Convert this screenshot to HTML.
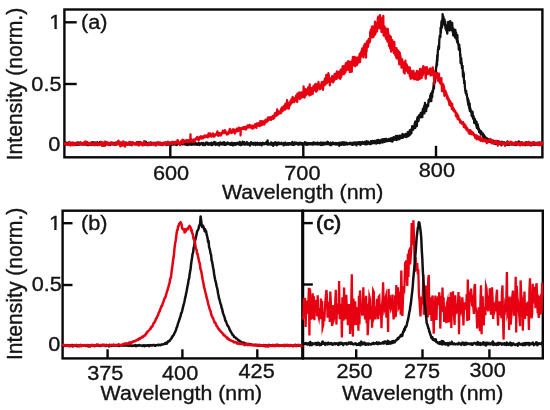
<!DOCTYPE html>
<html><head><meta charset="utf-8"><title>Spectra</title>
<style>html,body{margin:0;padding:0;background:#fff}svg{display:block}</style></head>
<body>
<svg width="550" height="410" viewBox="0 0 550 410" font-family="'Liberation Sans', Arial, Helvetica, sans-serif" fill="#151515">
<rect width="550" height="410" fill="#fff"/>
<defs>
<clipPath id="ca"><rect x="63.400000000000006" y="9.5" width="480.0" height="147.8"/></clipPath>
<clipPath id="cb"><rect x="61.6" y="210.7" width="242.20000000000002" height="147.7"/></clipPath>
<clipPath id="cc"><rect x="301.8" y="210.7" width="241.99999999999994" height="147.7"/></clipPath>
<clipPath id="c1"><polygon points="-12,-17 0,-17 0,-1.8 -4.15,-1.8 -4.15,0.4 -6.25,0.4 -6.25,-1.8 -12,-1.8"/></clipPath>
</defs>
<rect x="64.4" y="9.5" width="478.0" height="147.8" fill="none" stroke="#080808" stroke-width="2.4"/>
<line x1="170.3" y1="157.3" x2="170.3" y2="145.8" stroke="#080808" stroke-width="2.4"/>
<line x1="303.3" y1="157.3" x2="303.3" y2="145.8" stroke="#080808" stroke-width="2.4"/>
<line x1="436.0" y1="157.3" x2="436.0" y2="145.8" stroke="#080808" stroke-width="2.4"/>
<line x1="64.4" y1="22.3" x2="76.7" y2="22.3" stroke="#080808" stroke-width="2.4"/>
<line x1="64.4" y1="84.0" x2="76.7" y2="84.0" stroke="#080808" stroke-width="2.4"/>
<line x1="64.4" y1="143.7" x2="76.7" y2="143.7" stroke="#080808" stroke-width="2.4"/>
<rect x="62.6" y="210.7" width="240.2" height="147.7" fill="none" stroke="#080808" stroke-width="2.4"/>
<line x1="107.6" y1="358.4" x2="107.6" y2="349.29999999999995" stroke="#080808" stroke-width="2.4"/>
<line x1="182.4" y1="358.4" x2="182.4" y2="349.29999999999995" stroke="#080808" stroke-width="2.4"/>
<line x1="257.3" y1="358.4" x2="257.3" y2="349.29999999999995" stroke="#080808" stroke-width="2.4"/>
<line x1="62.6" y1="223.2" x2="72.5" y2="223.2" stroke="#080808" stroke-width="2.4"/>
<line x1="62.6" y1="285.0" x2="72.5" y2="285.0" stroke="#080808" stroke-width="2.4"/>
<line x1="62.6" y1="345.5" x2="72.5" y2="345.5" stroke="#080808" stroke-width="2.4"/>
<rect x="302.8" y="210.7" width="240.0" height="147.7" fill="none" stroke="#080808" stroke-width="2.4"/>
<line x1="356.2" y1="358.4" x2="356.2" y2="349.29999999999995" stroke="#080808" stroke-width="2.4"/>
<line x1="422.5" y1="358.4" x2="422.5" y2="349.29999999999995" stroke="#080808" stroke-width="2.4"/>
<line x1="489.4" y1="358.4" x2="489.4" y2="349.29999999999995" stroke="#080808" stroke-width="2.4"/>
<line x1="302.8" y1="223.1" x2="312.8" y2="223.1" stroke="#080808" stroke-width="2.4"/>
<line x1="302.8" y1="284.5" x2="312.8" y2="284.5" stroke="#080808" stroke-width="2.4"/>
<line x1="302.8" y1="343.8" x2="312.8" y2="343.8" stroke="#080808" stroke-width="2.4"/>
<line x1="302.8" y1="210.7" x2="302.8" y2="358.4" stroke="#080808" stroke-width="2.9"/>
<g fill="none" stroke-linejoin="round" stroke-linecap="round">
<path clip-path="url(#ca)" d="M64.4,143.9 L64.6,144.2 L64.7,143.7 L64.9,143.5 L65.0,143.6 L65.2,144.0 L65.4,144.2 L65.5,143.2 L65.7,143.8 L65.8,142.4 L66.0,144.2 L66.2,143.3 L66.3,143.7 L66.5,144.1 L66.6,142.9 L66.8,143.6 L67.0,144.2 L67.1,143.9 L67.3,143.1 L67.4,144.4 L67.6,142.9 L67.8,143.3 L67.9,143.9 L68.1,142.9 L68.2,142.7 L68.4,143.4 L68.6,143.6 L68.7,142.7 L68.9,142.9 L69.0,144.2 L69.2,143.8 L69.4,143.8 L69.5,143.9 L69.7,144.5 L69.8,143.2 L70.0,143.7 L70.2,143.6 L70.3,142.9 L70.5,144.0 L70.6,143.7 L70.8,143.5 L71.0,143.9 L71.1,143.8 L71.3,143.3 L71.4,143.7 L71.6,142.9 L71.8,144.1 L71.9,143.6 L72.1,144.5 L72.2,143.8 L72.4,144.1 L72.6,142.9 L72.7,143.3 L72.9,143.4 L73.0,142.6 L73.2,142.9 L73.4,143.3 L73.5,144.1 L73.7,144.5 L73.8,143.7 L74.0,143.9 L74.2,144.1 L74.3,143.9 L74.5,144.6 L74.6,142.8 L74.8,144.4 L75.0,144.1 L75.1,143.4 L75.3,144.6 L75.4,143.2 L75.6,143.2 L75.8,143.9 L75.9,144.3 L76.1,144.0 L76.2,144.8 L76.4,142.9 L76.6,143.7 L76.7,144.1 L76.9,144.2 L77.0,143.4 L77.2,142.8 L77.4,144.4 L77.5,144.0 L77.7,144.7 L77.8,143.3 L78.0,143.6 L78.2,142.4 L78.3,143.8 L78.5,143.9 L78.6,144.1 L78.8,143.2 L79.0,144.6 L79.1,143.3 L79.3,143.6 L79.4,144.0 L79.6,144.2 L79.8,143.1 L79.9,142.6 L80.1,144.0 L80.2,143.4 L80.4,142.7 L80.6,144.1 L80.7,143.8 L80.9,144.4 L81.0,143.8 L81.2,143.7 L81.4,143.9 L81.5,144.1 L81.7,144.6 L81.8,144.5 L82.0,144.3 L82.2,143.3 L82.3,144.0 L82.5,144.2 L82.6,143.3 L82.8,143.4 L83.0,144.1 L83.1,144.1 L83.3,143.3 L83.4,143.5 L83.6,144.2 L83.8,143.6 L83.9,143.7 L84.1,143.1 L84.2,144.2 L84.4,143.2 L84.6,143.5 L84.7,144.3 L84.9,143.1 L85.0,143.2 L85.2,144.5 L85.4,142.6 L85.5,144.4 L85.7,144.2 L85.8,143.9 L86.0,143.3 L86.2,143.4 L86.3,143.8 L86.5,142.9 L86.6,143.5 L86.8,142.9 L87.0,142.1 L87.1,143.6 L87.3,145.2 L87.4,144.0 L87.6,144.3 L87.8,143.6 L87.9,143.6 L88.1,144.4 L88.2,144.4 L88.4,143.9 L88.6,143.8 L88.7,145.2 L88.9,143.1 L89.0,143.7 L89.2,143.7 L89.4,143.5 L89.5,144.3 L89.7,143.7 L89.8,143.1 L90.0,143.1 L90.2,143.4 L90.3,143.9 L90.5,144.2 L90.6,142.9 L90.8,143.4 L91.0,143.9 L91.1,145.0 L91.3,144.2 L91.4,144.8 L91.6,143.0 L91.8,143.6 L91.9,144.1 L92.1,143.9 L92.2,142.2 L92.4,143.0 L92.6,144.5 L92.7,143.8 L92.9,144.4 L93.0,144.7 L93.2,143.6 L93.4,142.3 L93.5,142.8 L93.7,143.7 L93.8,143.9 L94.0,143.6 L94.2,143.1 L94.3,144.6 L94.5,144.8 L94.6,142.6 L94.8,143.5 L95.0,142.7 L95.1,143.6 L95.3,142.8 L95.4,144.1 L95.6,143.4 L95.8,142.8 L95.9,143.1 L96.1,144.0 L96.2,143.2 L96.4,144.1 L96.6,144.6 L96.7,143.4 L96.9,142.9 L97.0,143.2 L97.2,144.5 L97.4,142.1 L97.5,143.3 L97.7,144.0 L97.8,145.2 L98.0,143.1 L98.2,143.2 L98.3,143.4 L98.5,144.7 L98.6,144.6 L98.8,143.1 L99.0,143.2 L99.1,143.4 L99.3,143.8 L99.4,143.5 L99.6,144.0 L99.8,143.9 L99.9,144.2 L100.1,141.9 L100.2,144.0 L100.4,143.1 L100.6,143.3 L100.7,144.2 L100.9,142.6 L101.0,144.4 L101.2,143.4 L101.4,143.0 L101.5,142.9 L101.7,145.0 L101.8,143.1 L102.0,143.0 L102.2,142.8 L102.3,145.0 L102.5,144.1 L102.6,143.8 L102.8,144.0 L103.0,142.9 L103.1,144.1 L103.3,143.0 L103.4,143.4 L103.6,144.6 L103.8,144.3 L103.9,144.0 L104.1,143.6 L104.2,143.1 L104.4,143.8 L104.6,143.1 L104.7,144.7 L104.9,145.5 L105.0,143.9 L105.2,143.4 L105.4,143.9 L105.5,144.3 L105.7,143.4 L105.8,142.5 L106.0,143.8 L106.2,144.1 L106.3,144.2 L106.5,142.5 L106.6,143.7 L106.8,143.3 L107.0,143.0 L107.1,143.0 L107.3,144.3 L107.4,143.1 L107.6,143.2 L107.8,143.4 L107.9,143.1 L108.1,144.0 L108.2,143.7 L108.4,144.0 L108.6,143.2 L108.7,144.1 L108.9,143.5 L109.0,144.4 L109.2,143.8 L109.4,143.9 L109.5,143.8 L109.7,143.6 L109.8,143.8 L110.0,143.8 L110.2,145.0 L110.3,143.0 L110.5,144.1 L110.6,143.8 L110.8,144.2 L111.0,143.1 L111.1,144.2 L111.3,143.4 L111.4,143.0 L111.6,142.7 L111.8,143.0 L111.9,143.3 L112.1,144.4 L112.2,142.9 L112.4,143.0 L112.6,143.2 L112.7,143.2 L112.9,143.7 L113.0,144.0 L113.2,143.0 L113.4,142.9 L113.5,144.3 L113.7,143.1 L113.8,143.5 L114.0,143.2 L114.2,143.5 L114.3,143.0 L114.5,143.1 L114.6,143.2 L114.8,144.6 L115.0,143.2 L115.1,143.7 L115.3,144.4 L115.4,143.3 L115.6,144.5 L115.8,143.2 L115.9,142.7 L116.1,144.0 L116.2,143.1 L116.4,143.4 L116.6,143.3 L116.7,144.5 L116.9,143.3 L117.0,143.6 L117.2,143.2 L117.4,143.7 L117.5,143.0 L117.7,143.5 L117.8,143.3 L118.0,142.9 L118.2,143.6 L118.3,143.1 L118.5,143.5 L118.6,143.4 L118.8,144.0 L119.0,143.2 L119.1,142.9 L119.3,143.7 L119.4,143.2 L119.6,143.4 L119.8,144.3 L119.9,143.5 L120.1,142.9 L120.2,144.0 L120.4,144.7 L120.6,143.6 L120.7,144.1 L120.9,142.5 L121.0,143.7 L121.2,143.7 L121.4,144.1 L121.5,143.5 L121.7,144.0 L121.8,144.2 L122.0,143.7 L122.2,144.2 L122.3,142.9 L122.5,144.4 L122.6,143.7 L122.8,144.1 L123.0,144.5 L123.1,142.7 L123.3,144.9 L123.4,142.8 L123.6,144.5 L123.8,143.6 L123.9,142.3 L124.1,144.9 L124.2,144.5 L124.4,142.9 L124.6,143.6 L124.7,144.0 L124.9,143.7 L125.0,144.3 L125.2,143.6 L125.4,142.8 L125.5,143.9 L125.7,143.6 L125.8,143.0 L126.0,142.5 L126.2,144.0 L126.3,143.5 L126.5,144.0 L126.6,144.1 L126.8,143.9 L127.0,144.1 L127.1,144.7 L127.3,144.9 L127.4,144.1 L127.6,143.6 L127.8,143.0 L127.9,144.0 L128.1,143.8 L128.2,143.3 L128.4,143.2 L128.6,143.7 L128.7,143.7 L128.9,142.6 L129.0,143.9 L129.2,144.0 L129.4,144.6 L129.5,143.4 L129.7,143.8 L129.8,142.5 L130.0,143.9 L130.2,143.2 L130.3,143.1 L130.5,142.7 L130.6,144.5 L130.8,142.7 L131.0,143.7 L131.1,143.7 L131.3,143.9 L131.4,143.9 L131.6,143.9 L131.8,145.1 L131.9,143.4 L132.1,143.6 L132.2,144.2 L132.4,143.7 L132.6,142.3 L132.7,143.5 L132.9,143.9 L133.0,142.7 L133.2,144.2 L133.4,143.8 L133.5,144.0 L133.7,143.8 L133.8,143.2 L134.0,143.3 L134.2,144.1 L134.3,143.8 L134.5,143.6 L134.6,143.9 L134.8,143.7 L135.0,144.1 L135.1,144.1 L135.3,143.7 L135.4,144.3 L135.6,143.4 L135.8,143.8 L135.9,144.2 L136.1,144.0 L136.2,144.0 L136.4,143.8 L136.6,143.6 L136.7,143.8 L136.9,144.2 L137.0,142.8 L137.2,143.1 L137.4,143.6 L137.5,143.1 L137.7,143.5 L137.8,143.8 L138.0,143.6 L138.2,142.1 L138.3,143.1 L138.5,143.1 L138.6,143.9 L138.8,143.3 L139.0,142.4 L139.1,143.4 L139.3,143.0 L139.4,142.9 L139.6,143.3 L139.8,142.8 L139.9,143.5 L140.1,143.4 L140.2,144.1 L140.4,142.1 L140.6,143.5 L140.7,143.6 L140.9,142.9 L141.0,144.0 L141.2,143.7 L141.4,144.1 L141.5,143.7 L141.7,143.9 L141.8,143.4 L142.0,143.8 L142.2,144.0 L142.3,143.9 L142.5,143.8 L142.6,144.0 L142.8,143.1 L143.0,143.3 L143.1,143.6 L143.3,144.4 L143.4,143.4 L143.6,144.4 L143.8,143.6 L143.9,143.7 L144.1,144.0 L144.2,144.2 L144.4,144.1 L144.6,142.5 L144.7,143.8 L144.9,143.8 L145.0,143.1 L145.2,143.4 L145.4,143.1 L145.5,144.4 L145.7,144.3 L145.8,141.7 L146.0,143.7 L146.2,143.9 L146.3,143.6 L146.5,143.1 L146.6,144.4 L146.8,143.5 L147.0,143.7 L147.1,143.3 L147.3,143.6 L147.4,144.0 L147.6,144.2 L147.8,145.1 L147.9,143.1 L148.1,144.5 L148.2,143.9 L148.4,142.7 L148.6,143.9 L148.7,143.3 L148.9,143.8 L149.0,143.3 L149.2,143.7 L149.4,144.0 L149.5,142.9 L149.7,143.8 L149.8,144.5 L150.0,143.9 L150.2,143.4 L150.3,144.3 L150.5,143.2 L150.6,143.2 L150.8,142.4 L151.0,144.1 L151.1,143.3 L151.3,144.7 L151.4,143.9 L151.6,143.6 L151.8,143.4 L151.9,143.7 L152.1,143.7 L152.2,144.0 L152.4,143.9 L152.6,143.5 L152.7,143.4 L152.9,143.3 L153.0,143.1 L153.2,143.0 L153.4,144.7 L153.5,144.0 L153.7,143.8 L153.8,144.1 L154.0,143.1 L154.2,143.2 L154.3,143.7 L154.5,143.6 L154.6,142.9 L154.8,143.9 L155.0,143.9 L155.1,143.2 L155.3,143.4 L155.4,142.9 L155.6,143.5 L155.8,143.2 L155.9,144.0 L156.1,144.2 L156.2,143.7 L156.4,145.2 L156.6,143.4 L156.7,143.1 L156.9,143.6 L157.0,143.8 L157.2,143.1 L157.4,143.7 L157.5,143.1 L157.7,142.4 L157.8,143.3 L158.0,143.1 L158.2,143.4 L158.3,143.5 L158.5,143.5 L158.6,143.6 L158.8,143.1 L159.0,144.6 L159.1,143.8 L159.3,143.3 L159.4,144.2 L159.6,143.7 L159.8,144.1 L159.9,143.4 L160.1,143.2 L160.2,142.8 L160.4,143.4 L160.6,144.1 L160.7,143.5 L160.9,143.4 L161.0,142.9 L161.2,144.9 L161.4,143.5 L161.5,144.7 L161.7,143.3 L161.8,143.4 L162.0,143.4 L162.2,143.2 L162.3,143.5 L162.5,144.1 L162.6,143.5 L162.8,143.0 L163.0,143.8 L163.1,143.7 L163.3,144.4 L163.4,143.0 L163.6,144.0 L163.8,144.1 L163.9,143.9 L164.1,144.2 L164.2,143.8 L164.4,142.9 L164.6,143.2 L164.7,142.9 L164.9,142.8 L165.0,144.2 L165.2,143.4 L165.4,142.8 L165.5,142.4 L165.7,144.5 L165.8,144.5 L166.0,143.4 L166.2,143.9 L166.3,144.3 L166.5,143.5 L166.6,144.1 L166.8,145.0 L167.0,143.7 L167.1,143.6 L167.3,143.3 L167.4,143.1 L167.6,143.6 L167.8,143.8 L167.9,144.1 L168.1,144.6 L168.2,143.9 L168.4,143.1 L168.6,143.3 L168.7,142.5 L168.9,143.8 L169.0,144.7 L169.2,143.2 L169.4,143.1 L169.5,144.4 L169.7,144.6 L169.8,143.6 L170.0,143.3 L170.2,144.3 L170.3,143.9 L170.5,144.1 L170.6,144.4 L170.8,144.4 L171.0,143.6 L171.1,143.9 L171.3,144.1 L171.4,145.2 L171.6,142.7 L171.8,144.2 L171.9,143.8 L172.1,144.3 L172.2,143.5 L172.4,144.6 L172.6,143.6 L172.7,143.8 L172.9,143.2 L173.0,144.3 L173.2,144.1 L173.4,143.8 L173.5,142.5 L173.7,144.5 L173.8,143.5 L174.0,144.1 L174.2,143.5 L174.3,143.3 L174.5,143.6 L174.6,143.5 L174.8,143.5 L175.0,144.0 L175.1,143.8 L175.3,144.7 L175.4,143.9 L175.6,144.1 L175.8,143.8 L175.9,143.3 L176.1,143.5 L176.2,143.4 L176.4,143.1 L176.6,145.1 L176.7,143.4 L176.9,143.7 L177.0,143.8 L177.2,144.5 L177.4,143.4 L177.5,143.0 L177.7,143.1 L177.8,143.7 L178.0,143.3 L178.2,143.2 L178.3,142.6 L178.5,143.0 L178.6,143.6 L178.8,143.6 L179.0,143.6 L179.1,143.6 L179.3,144.0 L179.4,143.2 L179.6,144.1 L179.8,144.2 L179.9,143.5 L180.1,144.0 L180.2,143.8 L180.4,144.9 L180.6,143.2 L180.7,143.7 L180.9,143.8 L181.0,143.4 L181.2,143.6 L181.4,144.1 L181.5,142.5 L181.7,144.0 L181.8,143.1 L182.0,142.6 L182.2,144.1 L182.3,143.6 L182.5,144.2 L182.6,143.1 L182.8,143.9 L183.0,144.3 L183.1,142.9 L183.3,143.2 L183.4,144.2 L183.6,143.0 L183.8,143.6 L183.9,142.1 L184.1,142.7 L184.2,144.0 L184.4,143.9 L184.6,144.2 L184.7,143.6 L184.9,143.7 L185.0,143.3 L185.2,143.6 L185.4,144.6 L185.5,144.2 L185.7,142.9 L185.8,143.0 L186.0,143.8 L186.2,143.8 L186.3,143.8 L186.5,143.7 L186.6,144.7 L186.8,143.2 L187.0,144.1 L187.1,143.6 L187.3,145.2 L187.4,143.6 L187.6,142.9 L187.8,145.0 L187.9,142.8 L188.1,143.4 L188.2,144.1 L188.4,144.6 L188.6,143.0 L188.7,143.5 L188.9,143.4 L189.0,143.9 L189.2,144.2 L189.4,143.2 L189.5,144.3 L189.7,143.2 L189.8,144.7 L190.0,144.2 L190.2,144.5 L190.3,142.9 L190.5,144.7 L190.6,144.4 L190.8,143.3 L191.0,143.6 L191.1,142.4 L191.3,142.6 L191.4,143.3 L191.6,143.3 L191.8,144.8 L191.9,144.2 L192.1,143.9 L192.2,143.8 L192.4,144.5 L192.6,144.2 L192.7,144.2 L192.9,143.1 L193.0,143.5 L193.2,143.9 L193.4,143.9 L193.5,143.5 L193.7,144.1 L193.8,143.9 L194.0,144.7 L194.2,143.3 L194.3,143.1 L194.5,143.5 L194.6,143.4 L194.8,143.5 L195.0,142.5 L195.1,143.6 L195.3,144.5 L195.4,144.3 L195.6,143.3 L195.8,143.1 L195.9,143.3 L196.1,143.2 L196.2,143.6 L196.4,144.6 L196.6,144.1 L196.7,144.8 L196.9,143.9 L197.0,144.5 L197.2,143.6 L197.4,143.8 L197.5,144.8 L197.7,143.3 L197.8,143.3 L198.0,144.5 L198.2,143.6 L198.3,143.3 L198.5,143.9 L198.6,143.2 L198.8,143.6 L199.0,143.1 L199.1,143.6 L199.3,143.8 L199.4,143.4 L199.6,145.2 L199.8,143.6 L199.9,144.0 L200.1,144.2 L200.2,143.9 L200.4,144.0 L200.6,143.6 L200.7,143.6 L200.9,143.8 L201.0,143.7 L201.2,143.6 L201.4,142.8 L201.5,143.0 L201.7,144.0 L201.8,143.5 L202.0,143.9 L202.2,143.8 L202.3,143.9 L202.5,144.1 L202.6,144.5 L202.8,145.1 L203.0,143.6 L203.1,143.0 L203.3,144.2 L203.4,143.4 L203.6,143.9 L203.8,143.5 L203.9,144.2 L204.1,143.8 L204.2,143.8 L204.4,145.1 L204.6,143.6 L204.7,143.8 L204.9,145.2 L205.0,143.3 L205.2,143.7 L205.4,143.6 L205.5,143.5 L205.7,144.0 L205.8,144.3 L206.0,144.0 L206.2,144.0 L206.3,142.4 L206.5,142.6 L206.6,144.0 L206.8,144.0 L207.0,143.5 L207.1,143.4 L207.3,144.1 L207.4,144.3 L207.6,142.6 L207.8,143.1 L207.9,144.6 L208.1,144.8 L208.2,144.2 L208.4,143.6 L208.6,143.4 L208.7,143.9 L208.9,144.7 L209.0,143.6 L209.2,143.4 L209.4,143.7 L209.5,144.0 L209.7,143.4 L209.8,143.8 L210.0,144.4 L210.2,143.7 L210.3,144.5 L210.5,143.2 L210.6,143.4 L210.8,144.3 L211.0,143.6 L211.1,143.0 L211.3,145.0 L211.4,143.8 L211.6,142.7 L211.8,144.6 L211.9,143.8 L212.1,144.6 L212.2,143.8 L212.4,145.1 L212.6,144.7 L212.7,144.0 L212.9,143.6 L213.0,143.5 L213.2,143.5 L213.4,143.0 L213.5,143.3 L213.7,143.3 L213.8,144.3 L214.0,143.8 L214.2,141.8 L214.3,142.4 L214.5,143.2 L214.6,143.3 L214.8,143.1 L215.0,144.0 L215.1,142.6 L215.3,143.9 L215.4,143.8 L215.6,142.4 L215.8,145.0 L215.9,143.5 L216.1,144.7 L216.2,144.1 L216.4,143.8 L216.6,143.9 L216.7,143.6 L216.9,144.2 L217.0,143.8 L217.2,144.4 L217.4,143.9 L217.5,144.5 L217.7,143.3 L217.8,144.5 L218.0,143.3 L218.2,144.0 L218.3,143.9 L218.5,143.0 L218.6,143.7 L218.8,144.9 L219.0,143.4 L219.1,145.5 L219.3,143.6 L219.4,144.0 L219.6,144.6 L219.8,143.7 L219.9,143.9 L220.1,142.5 L220.2,144.0 L220.4,142.6 L220.6,142.9 L220.7,144.1 L220.9,144.2 L221.0,142.9 L221.2,143.8 L221.4,143.6 L221.5,143.9 L221.7,144.4 L221.8,143.9 L222.0,144.3 L222.2,144.6 L222.3,143.9 L222.5,142.6 L222.6,142.7 L222.8,143.8 L223.0,143.6 L223.1,143.4 L223.3,142.9 L223.4,143.5 L223.6,144.0 L223.8,144.0 L223.9,143.0 L224.1,142.1 L224.2,144.1 L224.4,145.0 L224.6,143.2 L224.7,143.8 L224.9,143.6 L225.0,143.0 L225.2,143.7 L225.4,144.5 L225.5,144.9 L225.7,143.7 L225.8,144.4 L226.0,143.5 L226.2,144.5 L226.3,143.9 L226.5,144.6 L226.6,143.9 L226.8,144.0 L227.0,143.4 L227.1,142.9 L227.3,143.8 L227.4,144.2 L227.6,142.5 L227.8,143.5 L227.9,143.3 L228.1,143.3 L228.2,142.8 L228.4,143.1 L228.6,143.3 L228.7,143.3 L228.9,144.2 L229.0,144.1 L229.2,143.8 L229.4,143.7 L229.5,143.7 L229.7,143.5 L229.8,143.7 L230.0,144.0 L230.2,144.7 L230.3,143.2 L230.5,143.4 L230.6,144.2 L230.8,143.4 L231.0,143.5 L231.1,143.7 L231.3,144.8 L231.4,144.4 L231.6,144.1 L231.8,142.7 L231.9,144.2 L232.1,143.9 L232.2,144.4 L232.4,144.0 L232.6,143.5 L232.7,145.0 L232.9,145.4 L233.0,143.3 L233.2,143.7 L233.4,144.1 L233.5,143.1 L233.7,143.1 L233.8,145.0 L234.0,143.8 L234.2,143.0 L234.3,144.1 L234.5,143.9 L234.6,143.1 L234.8,143.9 L235.0,144.4 L235.1,144.1 L235.3,144.5 L235.4,143.4 L235.6,144.8 L235.8,143.1 L235.9,144.7 L236.1,143.7 L236.2,144.6 L236.4,143.9 L236.6,143.1 L236.7,143.0 L236.9,142.9 L237.0,143.8 L237.2,143.7 L237.4,143.6 L237.5,143.3 L237.7,144.0 L237.8,143.0 L238.0,143.5 L238.2,143.0 L238.3,143.4 L238.5,143.3 L238.6,144.2 L238.8,144.0 L239.0,144.5 L239.1,143.9 L239.3,143.8 L239.4,143.2 L239.6,144.5 L239.8,141.8 L239.9,143.8 L240.1,143.0 L240.2,143.1 L240.4,145.2 L240.6,143.9 L240.7,142.8 L240.9,145.2 L241.0,143.2 L241.2,144.3 L241.4,144.0 L241.5,143.6 L241.7,144.8 L241.8,143.6 L242.0,144.1 L242.2,144.2 L242.3,143.3 L242.5,141.6 L242.6,143.5 L242.8,143.4 L243.0,143.7 L243.1,144.2 L243.3,143.6 L243.4,142.8 L243.6,143.6 L243.8,143.2 L243.9,143.9 L244.1,142.2 L244.2,144.7 L244.4,143.4 L244.6,143.4 L244.7,143.6 L244.9,144.4 L245.0,144.4 L245.2,143.9 L245.4,143.7 L245.5,144.5 L245.7,144.4 L245.8,143.4 L246.0,143.1 L246.2,144.1 L246.3,144.1 L246.5,144.2 L246.6,142.2 L246.8,143.4 L247.0,143.8 L247.1,143.1 L247.3,142.3 L247.4,143.0 L247.6,144.6 L247.8,143.8 L247.9,144.0 L248.1,143.9 L248.2,144.5 L248.4,144.0 L248.6,144.4 L248.7,143.5 L248.9,143.7 L249.0,144.6 L249.2,144.8 L249.4,144.0 L249.5,143.3 L249.7,143.4 L249.8,143.8 L250.0,145.7 L250.2,144.0 L250.3,144.2 L250.5,143.9 L250.6,144.5 L250.8,144.0 L251.0,144.1 L251.1,142.1 L251.3,143.3 L251.4,143.8 L251.6,143.8 L251.8,143.8 L251.9,143.6 L252.1,144.0 L252.2,143.7 L252.4,143.1 L252.6,143.2 L252.7,143.5 L252.9,142.9 L253.0,143.6 L253.2,144.3 L253.4,144.8 L253.5,144.1 L253.7,143.8 L253.8,143.5 L254.0,143.1 L254.2,144.1 L254.3,144.2 L254.5,143.3 L254.6,143.0 L254.8,144.0 L255.0,143.5 L255.1,142.9 L255.3,143.5 L255.4,143.8 L255.6,145.0 L255.8,142.9 L255.9,143.3 L256.1,143.6 L256.2,144.0 L256.4,144.5 L256.6,143.8 L256.7,143.8 L256.9,143.1 L257.0,144.5 L257.2,142.8 L257.4,143.7 L257.5,143.0 L257.7,144.3 L257.8,143.5 L258.0,143.0 L258.2,143.7 L258.3,144.6 L258.5,143.9 L258.6,143.4 L258.8,144.6 L259.0,144.6 L259.1,143.6 L259.3,144.3 L259.4,143.3 L259.6,144.4 L259.8,144.8 L259.9,144.2 L260.1,142.8 L260.2,144.2 L260.4,143.7 L260.6,143.6 L260.7,144.3 L260.9,143.1 L261.0,143.6 L261.2,143.5 L261.4,144.7 L261.5,144.8 L261.7,145.4 L261.8,143.8 L262.0,143.9 L262.2,143.3 L262.3,142.8 L262.5,143.9 L262.6,143.9 L262.8,143.4 L263.0,142.8 L263.1,144.2 L263.3,143.3 L263.4,143.9 L263.6,143.9 L263.8,143.2 L263.9,144.2 L264.1,144.4 L264.2,143.3 L264.4,143.7 L264.6,143.9 L264.7,143.8 L264.9,143.4 L265.0,143.9 L265.2,143.3 L265.4,143.5 L265.5,142.8 L265.7,143.0 L265.8,143.2 L266.0,143.8 L266.2,143.6 L266.3,144.1 L266.5,142.0 L266.6,143.9 L266.8,143.4 L267.0,142.9 L267.1,144.5 L267.3,144.2 L267.4,144.0 L267.6,140.3 L267.8,144.5 L267.9,144.0 L268.1,142.9 L268.2,143.3 L268.4,143.7 L268.6,143.7 L268.7,144.7 L268.9,143.3 L269.0,143.5 L269.2,144.4 L269.4,143.6 L269.5,143.8 L269.7,144.0 L269.8,144.3 L270.0,144.1 L270.2,144.3 L270.3,143.4 L270.5,143.5 L270.6,143.5 L270.8,143.8 L271.0,144.0 L271.1,142.5 L271.3,144.8 L271.4,143.0 L271.6,143.5 L271.8,143.7 L271.9,144.0 L272.1,143.9 L272.2,144.4 L272.4,144.6 L272.6,143.8 L272.7,144.7 L272.9,143.2 L273.0,143.0 L273.2,145.8 L273.4,144.7 L273.5,143.6 L273.7,143.6 L273.8,143.7 L274.0,143.5 L274.2,143.3 L274.3,143.2 L274.5,142.6 L274.6,143.7 L274.8,143.2 L275.0,144.7 L275.1,143.8 L275.3,144.5 L275.4,142.9 L275.6,142.3 L275.8,143.4 L275.9,144.5 L276.1,143.8 L276.2,143.7 L276.4,143.6 L276.6,143.1 L276.7,143.1 L276.9,145.3 L277.0,142.9 L277.2,144.0 L277.4,144.1 L277.5,142.9 L277.7,143.9 L277.8,144.5 L278.0,144.5 L278.2,143.7 L278.3,143.2 L278.5,142.8 L278.6,143.8 L278.8,144.0 L279.0,142.7 L279.1,144.0 L279.3,142.8 L279.4,143.6 L279.6,143.6 L279.8,143.9 L279.9,143.5 L280.1,144.0 L280.2,144.1 L280.4,143.8 L280.6,144.1 L280.7,143.5 L280.9,143.7 L281.0,143.9 L281.2,143.8 L281.4,143.9 L281.5,142.7 L281.7,143.7 L281.8,144.1 L282.0,143.9 L282.2,143.3 L282.3,143.8 L282.5,143.8 L282.6,143.9 L282.8,143.6 L283.0,143.5 L283.1,143.4 L283.3,144.7 L283.4,144.4 L283.6,145.3 L283.8,143.2 L283.9,143.0 L284.1,142.9 L284.2,143.6 L284.4,143.0 L284.6,143.7 L284.7,143.8 L284.9,144.6 L285.0,144.2 L285.2,144.1 L285.4,143.2 L285.5,142.7 L285.7,144.0 L285.8,143.5 L286.0,143.5 L286.2,144.2 L286.3,144.8 L286.5,144.2 L286.6,144.6 L286.8,143.9 L287.0,143.8 L287.1,143.8 L287.3,143.8 L287.4,143.4 L287.6,144.3 L287.8,143.2 L287.9,144.7 L288.1,143.7 L288.2,143.5 L288.4,144.2 L288.6,144.7 L288.7,143.3 L288.9,144.1 L289.0,143.2 L289.2,143.3 L289.4,143.7 L289.5,143.7 L289.7,143.1 L289.8,143.5 L290.0,144.3 L290.2,143.6 L290.3,143.4 L290.5,143.6 L290.6,143.6 L290.8,143.8 L291.0,143.8 L291.1,144.3 L291.3,144.6 L291.4,143.0 L291.6,144.1 L291.8,143.6 L291.9,144.6 L292.1,143.6 L292.2,144.2 L292.4,141.9 L292.6,144.3 L292.7,144.3 L292.9,143.1 L293.0,143.0 L293.2,145.0 L293.4,143.6 L293.5,143.2 L293.7,144.5 L293.8,143.3 L294.0,144.0 L294.2,144.3 L294.3,143.9 L294.5,144.0 L294.6,144.6 L294.8,142.4 L295.0,144.0 L295.1,144.2 L295.3,143.2 L295.4,143.8 L295.6,142.9 L295.8,143.9 L295.9,143.5 L296.1,143.7 L296.2,143.6 L296.4,143.8 L296.6,143.8 L296.7,142.7 L296.9,144.1 L297.0,144.0 L297.2,143.9 L297.4,143.4 L297.5,143.5 L297.7,143.2 L297.8,144.5 L298.0,143.6 L298.2,143.8 L298.3,143.9 L298.5,143.6 L298.6,144.9 L298.8,143.6 L299.0,143.6 L299.1,144.6 L299.3,143.8 L299.4,142.6 L299.6,144.0 L299.8,143.4 L299.9,143.9 L300.1,144.2 L300.2,144.3 L300.4,144.0 L300.6,142.9 L300.7,143.2 L300.9,144.1 L301.0,143.1 L301.2,143.8 L301.4,144.1 L301.5,143.5 L301.7,144.3 L301.8,144.7 L302.0,142.9 L302.2,144.8 L302.3,143.4 L302.5,144.6 L302.6,143.7 L302.8,143.8 L303.0,144.0 L303.1,145.0 L303.3,143.8 L303.4,143.7 L303.6,144.3 L303.8,143.8 L303.9,143.1 L304.1,144.1 L304.2,143.6 L304.4,144.4 L304.6,143.5 L304.7,143.3 L304.9,142.2 L305.0,143.2 L305.2,143.5 L305.4,144.7 L305.5,144.3 L305.7,143.1 L305.8,144.0 L306.0,144.1 L306.2,143.1 L306.3,143.6 L306.5,142.9 L306.6,144.6 L306.8,143.6 L307.0,144.0 L307.1,143.9 L307.3,144.9 L307.4,143.2 L307.6,143.6 L307.8,144.3 L307.9,144.5 L308.1,144.2 L308.2,142.9 L308.4,143.8 L308.6,143.9 L308.7,143.4 L308.9,143.7 L309.0,143.6 L309.2,143.3 L309.4,143.5 L309.5,143.2 L309.7,144.4 L309.8,143.7 L310.0,143.9 L310.2,143.6 L310.3,143.7 L310.5,144.1 L310.6,143.9 L310.8,143.1 L311.0,144.0 L311.1,144.4 L311.3,143.4 L311.4,143.1 L311.6,143.9 L311.8,143.6 L311.9,144.2 L312.1,143.8 L312.2,143.0 L312.4,143.2 L312.6,143.6 L312.7,143.9 L312.9,144.7 L313.0,143.5 L313.2,143.4 L313.4,143.1 L313.5,142.5 L313.7,143.5 L313.8,143.1 L314.0,144.4 L314.2,143.0 L314.3,143.2 L314.5,142.9 L314.6,143.3 L314.8,143.4 L315.0,142.8 L315.1,144.1 L315.3,143.3 L315.4,143.1 L315.6,144.2 L315.8,144.4 L315.9,143.4 L316.1,143.6 L316.2,143.3 L316.4,143.3 L316.6,144.2 L316.7,143.5 L316.9,143.0 L317.0,143.9 L317.2,143.9 L317.4,144.4 L317.5,143.2 L317.7,142.5 L317.8,144.5 L318.0,143.2 L318.2,143.2 L318.3,144.0 L318.5,143.9 L318.6,144.3 L318.8,144.2 L319.0,143.6 L319.1,143.3 L319.3,143.6 L319.4,143.2 L319.6,143.6 L319.8,144.4 L319.9,142.8 L320.1,143.0 L320.2,144.1 L320.4,142.6 L320.6,143.4 L320.7,143.6 L320.9,142.6 L321.0,145.2 L321.2,144.6 L321.4,143.3 L321.5,143.8 L321.7,144.2 L321.8,142.8 L322.0,143.4 L322.2,144.4 L322.3,144.1 L322.5,143.2 L322.6,142.6 L322.8,144.9 L323.0,143.5 L323.1,143.9 L323.3,144.7 L323.4,143.8 L323.6,144.6 L323.8,144.0 L323.9,142.7 L324.1,143.4 L324.2,143.2 L324.4,143.3 L324.6,143.5 L324.7,143.1 L324.9,144.4 L325.0,143.9 L325.2,143.2 L325.4,144.1 L325.5,143.9 L325.7,143.0 L325.8,142.8 L326.0,144.0 L326.2,144.2 L326.3,143.3 L326.5,143.5 L326.6,144.1 L326.8,143.3 L327.0,143.4 L327.1,143.6 L327.3,141.9 L327.4,142.9 L327.6,143.2 L327.8,143.1 L327.9,141.9 L328.1,143.0 L328.2,144.1 L328.4,143.5 L328.6,143.6 L328.7,144.0 L328.9,143.5 L329.0,143.5 L329.2,143.7 L329.4,144.0 L329.5,143.2 L329.7,144.6 L329.8,143.2 L330.0,143.7 L330.2,143.5 L330.3,145.1 L330.5,142.7 L330.6,144.7 L330.8,144.2 L331.0,143.3 L331.1,144.0 L331.3,143.9 L331.4,145.0 L331.6,143.9 L331.8,143.5 L331.9,143.3 L332.1,143.8 L332.2,143.5 L332.4,143.4 L332.6,144.1 L332.7,144.1 L332.9,142.5 L333.0,144.2 L333.2,142.9 L333.4,143.6 L333.5,142.8 L333.7,144.1 L333.8,143.4 L334.0,143.5 L334.2,143.8 L334.3,143.5 L334.5,144.1 L334.6,143.7 L334.8,143.9 L335.0,143.2 L335.1,143.7 L335.3,144.5 L335.4,143.9 L335.6,143.7 L335.8,144.2 L335.9,142.9 L336.1,143.4 L336.2,143.2 L336.4,144.1 L336.6,143.9 L336.7,143.1 L336.9,144.5 L337.0,143.5 L337.2,143.6 L337.4,144.0 L337.5,143.6 L337.7,144.3 L337.8,143.5 L338.0,144.4 L338.2,144.4 L338.3,142.8 L338.5,144.1 L338.6,144.9 L338.8,143.1 L339.0,144.1 L339.1,145.8 L339.3,143.7 L339.4,143.1 L339.6,143.5 L339.8,142.6 L339.9,143.7 L340.1,143.3 L340.2,144.3 L340.4,143.6 L340.6,142.8 L340.7,143.4 L340.9,143.6 L341.0,144.9 L341.2,143.9 L341.4,144.4 L341.5,143.2 L341.7,144.1 L341.8,143.5 L342.0,144.3 L342.2,142.5 L342.3,144.4 L342.5,143.6 L342.6,142.1 L342.8,143.5 L343.0,144.2 L343.1,143.3 L343.3,143.1 L343.4,143.2 L343.6,144.8 L343.8,143.5 L343.9,144.9 L344.1,142.5 L344.2,143.6 L344.4,143.9 L344.6,143.3 L344.7,143.4 L344.9,144.4 L345.0,142.7 L345.2,143.4 L345.4,144.7 L345.5,142.8 L345.7,142.8 L345.8,142.9 L346.0,143.3 L346.2,144.2 L346.3,143.1 L346.5,142.6 L346.6,143.2 L346.8,142.7 L347.0,144.1 L347.1,143.1 L347.3,143.1 L347.4,144.6 L347.6,144.6 L347.8,144.1 L347.9,143.6 L348.1,143.4 L348.2,143.8 L348.4,143.7 L348.6,143.7 L348.7,143.6 L348.9,143.3 L349.0,143.4 L349.2,143.7 L349.4,143.5 L349.5,143.9 L349.7,143.2 L349.8,144.0 L350.0,142.6 L350.2,143.7 L350.3,143.5 L350.5,144.1 L350.6,143.9 L350.8,143.5 L351.0,143.6 L351.1,144.0 L351.3,144.4 L351.4,143.6 L351.6,143.5 L351.8,143.2 L351.9,142.8 L352.1,143.8 L352.2,144.9 L352.4,143.7 L352.6,144.8 L352.7,144.4 L352.9,142.9 L353.0,143.2 L353.2,144.0 L353.4,144.0 L353.5,143.6 L353.7,144.7 L353.8,143.2 L354.0,143.8 L354.2,142.3 L354.3,144.2 L354.5,142.8 L354.6,144.0 L354.8,142.8 L355.0,144.1 L355.1,143.0 L355.3,143.8 L355.4,144.0 L355.6,143.6 L355.8,143.1 L355.9,143.2 L356.1,142.3 L356.2,142.9 L356.4,145.3 L356.6,143.7 L356.7,144.8 L356.9,143.7 L357.0,143.0 L357.2,144.3 L357.4,144.2 L357.5,143.3 L357.7,143.6 L357.8,142.3 L358.0,143.1 L358.2,143.0 L358.3,142.1 L358.5,143.7 L358.6,143.3 L358.8,144.0 L359.0,143.1 L359.1,142.6 L359.3,142.3 L359.4,143.3 L359.6,143.8 L359.8,143.9 L359.9,144.3 L360.1,143.2 L360.2,142.3 L360.4,145.0 L360.6,144.8 L360.7,142.3 L360.9,144.4 L361.0,143.0 L361.2,144.2 L361.4,142.7 L361.5,142.7 L361.7,143.1 L361.8,142.6 L362.0,143.2 L362.2,142.8 L362.3,141.9 L362.5,142.4 L362.6,143.7 L362.8,143.8 L363.0,143.4 L363.1,143.3 L363.3,143.1 L363.4,143.6 L363.6,142.7 L363.8,143.1 L363.9,142.9 L364.1,143.1 L364.2,142.7 L364.4,144.0 L364.6,141.9 L364.7,142.9 L364.9,142.8 L365.0,142.6 L365.2,142.3 L365.4,142.5 L365.5,142.9 L365.7,143.2 L365.8,144.3 L366.0,142.9 L366.2,143.3 L366.3,143.3 L366.5,141.2 L366.6,144.4 L366.8,143.0 L367.0,142.1 L367.1,142.3 L367.3,142.1 L367.4,144.0 L367.6,143.7 L367.8,142.5 L367.9,143.2 L368.1,141.7 L368.2,142.8 L368.4,142.8 L368.6,142.6 L368.7,143.2 L368.9,142.9 L369.0,143.5 L369.2,143.0 L369.4,143.3 L369.5,142.7 L369.7,144.0 L369.8,144.0 L370.0,142.5 L370.2,142.7 L370.3,143.6 L370.5,143.0 L370.6,143.6 L370.8,141.2 L371.0,144.0 L371.1,141.4 L371.3,143.4 L371.4,142.4 L371.6,142.9 L371.8,143.0 L371.9,141.9 L372.1,142.0 L372.2,142.8 L372.4,143.3 L372.6,140.9 L372.7,141.4 L372.9,142.4 L373.0,142.7 L373.2,142.2 L373.4,142.4 L373.5,141.5 L373.7,143.2 L373.8,142.4 L374.0,143.0 L374.2,141.3 L374.3,140.8 L374.5,142.4 L374.6,141.8 L374.8,141.1 L375.0,142.5 L375.1,143.0 L375.3,141.3 L375.4,141.8 L375.6,142.3 L375.8,140.9 L375.9,141.9 L376.1,143.6 L376.2,141.8 L376.4,142.1 L376.6,140.4 L376.7,142.0 L376.9,142.2 L377.0,141.6 L377.2,141.7 L377.4,143.1 L377.5,141.8 L377.7,142.1 L377.8,140.6 L378.0,139.8 L378.2,142.8 L378.3,142.6 L378.5,142.5 L378.6,142.3 L378.8,142.3 L379.0,141.7 L379.1,140.7 L379.3,142.8 L379.4,143.0 L379.6,143.2 L379.8,140.6 L379.9,140.4 L380.1,142.9 L380.2,142.9 L380.4,141.4 L380.6,140.5 L380.7,140.5 L380.9,141.2 L381.0,140.8 L381.2,141.1 L381.4,141.8 L381.5,139.6 L381.7,141.3 L381.8,142.3 L382.0,141.7 L382.2,142.6 L382.3,141.2 L382.5,140.2 L382.6,142.3 L382.8,140.1 L383.0,139.2 L383.1,140.7 L383.3,142.1 L383.4,141.8 L383.6,141.3 L383.8,142.1 L383.9,142.1 L384.1,141.1 L384.2,141.0 L384.4,140.3 L384.6,141.9 L384.7,139.1 L384.9,139.8 L385.0,139.9 L385.2,141.3 L385.4,139.1 L385.5,141.0 L385.7,139.0 L385.8,139.6 L386.0,141.4 L386.2,141.0 L386.3,138.8 L386.5,139.6 L386.6,140.6 L386.8,140.3 L387.0,140.3 L387.1,141.2 L387.3,140.6 L387.4,141.0 L387.6,140.8 L387.8,139.9 L387.9,141.2 L388.1,139.6 L388.2,140.1 L388.4,139.5 L388.6,139.3 L388.7,139.0 L388.9,139.5 L389.0,139.4 L389.2,140.3 L389.4,139.5 L389.5,140.9 L389.7,140.2 L389.8,139.3 L390.0,140.0 L390.2,139.5 L390.3,140.9 L390.5,138.5 L390.6,140.3 L390.8,139.3 L391.0,139.7 L391.1,138.7 L391.3,140.0 L391.4,140.5 L391.6,141.4 L391.8,139.7 L391.9,140.6 L392.1,138.8 L392.2,137.8 L392.4,141.5 L392.6,140.5 L392.7,138.8 L392.9,137.8 L393.0,138.7 L393.2,138.7 L393.4,138.4 L393.5,138.3 L393.7,137.2 L393.8,138.2 L394.0,140.0 L394.2,139.2 L394.3,138.4 L394.5,139.4 L394.6,138.8 L394.8,139.1 L395.0,139.2 L395.1,137.7 L395.3,138.8 L395.4,139.5 L395.6,139.0 L395.8,138.2 L395.9,136.0 L396.1,137.8 L396.2,136.5 L396.4,137.5 L396.6,140.2 L396.7,137.5 L396.9,138.8 L397.0,139.3 L397.2,138.9 L397.4,135.8 L397.5,139.4 L397.7,138.3 L397.8,136.3 L398.0,136.8 L398.2,139.3 L398.3,137.6 L398.5,137.9 L398.6,137.6 L398.8,136.5 L399.0,137.9 L399.1,137.5 L399.3,135.6 L399.4,139.1 L399.6,137.5 L399.8,136.5 L399.9,138.3 L400.1,137.6 L400.2,138.3 L400.4,136.7 L400.6,137.5 L400.7,135.9 L400.9,135.6 L401.0,136.6 L401.2,137.0 L401.4,136.3 L401.5,136.5 L401.7,137.8 L401.8,135.3 L402.0,136.2 L402.2,135.5 L402.3,137.9 L402.5,135.3 L402.6,133.9 L402.8,135.5 L403.0,137.8 L403.1,136.1 L403.3,136.1 L403.4,135.8 L403.6,136.3 L403.8,135.4 L403.9,136.4 L404.1,135.6 L404.2,136.6 L404.4,135.7 L404.6,134.6 L404.7,136.3 L404.9,134.9 L405.0,136.6 L405.2,136.0 L405.4,135.8 L405.5,134.1 L405.7,136.3 L405.8,134.0 L406.0,137.1 L406.2,135.5 L406.3,134.2 L406.5,134.5 L406.6,136.4 L406.8,136.6 L407.0,134.1 L407.1,136.6 L407.3,134.4 L407.4,135.6 L407.6,134.9 L407.8,132.1 L407.9,132.9 L408.1,133.6 L408.2,136.1 L408.4,133.9 L408.6,134.0 L408.7,134.0 L408.9,132.1 L409.0,135.6 L409.2,132.9 L409.4,132.9 L409.5,133.8 L409.7,130.5 L409.8,134.0 L410.0,132.2 L410.2,131.9 L410.3,134.5 L410.5,133.4 L410.6,132.6 L410.8,130.1 L411.0,129.7 L411.1,129.9 L411.3,130.2 L411.4,133.1 L411.6,129.8 L411.8,130.5 L411.9,128.1 L412.1,127.6 L412.2,126.2 L412.4,128.0 L412.6,127.7 L412.7,130.0 L412.9,128.2 L413.0,129.8 L413.2,126.7 L413.4,129.3 L413.5,127.8 L413.7,128.4 L413.8,127.7 L414.0,126.1 L414.2,127.3 L414.3,125.9 L414.5,127.4 L414.6,123.7 L414.8,126.3 L415.0,123.7 L415.1,121.7 L415.3,128.0 L415.4,125.7 L415.6,124.2 L415.8,121.9 L415.9,124.1 L416.1,122.5 L416.2,123.9 L416.4,121.6 L416.6,124.0 L416.7,120.6 L416.9,126.1 L417.0,124.2 L417.2,118.3 L417.4,120.5 L417.5,121.8 L417.7,116.8 L417.8,118.2 L418.0,117.8 L418.2,119.9 L418.3,118.0 L418.5,117.9 L418.6,121.0 L418.8,117.2 L419.0,118.1 L419.1,115.5 L419.3,115.2 L419.4,118.0 L419.6,117.6 L419.8,116.1 L419.9,115.1 L420.1,116.6 L420.2,115.8 L420.4,114.4 L420.6,114.5 L420.7,113.0 L420.9,114.3 L421.0,116.0 L421.2,117.2 L421.4,112.7 L421.5,114.4 L421.7,114.2 L421.8,113.9 L422.0,115.9 L422.2,113.7 L422.3,117.2 L422.5,113.2 L422.6,113.9 L422.8,109.0 L423.0,111.2 L423.1,112.1 L423.3,111.2 L423.4,110.0 L423.6,112.4 L423.8,111.2 L423.9,111.2 L424.1,106.1 L424.2,110.1 L424.4,113.4 L424.6,108.4 L424.7,105.0 L424.9,111.0 L425.0,103.0 L425.2,109.0 L425.4,106.9 L425.5,109.4 L425.7,108.7 L425.8,110.1 L426.0,109.6 L426.2,111.2 L426.3,105.1 L426.5,108.9 L426.6,105.9 L426.8,105.6 L427.0,107.1 L427.1,105.5 L427.3,105.5 L427.4,105.9 L427.6,104.6 L427.8,104.2 L427.9,105.9 L428.1,106.1 L428.2,105.0 L428.4,102.9 L428.6,100.2 L428.7,99.7 L428.9,101.5 L429.0,100.0 L429.2,101.3 L429.4,99.1 L429.5,100.6 L429.7,99.7 L429.8,100.6 L430.0,99.7 L430.2,95.6 L430.3,101.1 L430.5,98.3 L430.6,99.0 L430.8,95.5 L431.0,93.3 L431.1,96.9 L431.3,101.2 L431.4,94.1 L431.6,93.5 L431.8,97.6 L431.9,94.2 L432.1,93.3 L432.2,97.3 L432.4,90.8 L432.6,90.7 L432.7,90.4 L432.9,92.4 L433.0,90.9 L433.2,90.0 L433.4,86.8 L433.5,88.9 L433.7,82.8 L433.8,84.1 L434.0,88.5 L434.2,79.3 L434.3,81.5 L434.5,82.1 L434.6,79.6 L434.8,82.8 L435.0,77.3 L435.1,82.1 L435.3,77.8 L435.4,71.2 L435.6,70.2 L435.8,72.5 L435.9,72.6 L436.1,66.8 L436.2,67.7 L436.4,65.6 L436.6,63.2 L436.7,65.8 L436.9,59.9 L437.0,65.5 L437.2,55.4 L437.4,61.3 L437.5,57.6 L437.7,56.2 L437.8,51.3 L438.0,49.8 L438.2,49.3 L438.3,47.3 L438.5,46.0 L438.6,45.9 L438.8,49.2 L439.0,48.7 L439.1,47.3 L439.3,40.1 L439.4,39.3 L439.6,37.8 L439.8,35.6 L439.9,35.7 L440.1,36.7 L440.2,37.0 L440.4,37.1 L440.6,27.7 L440.7,27.6 L440.9,32.8 L441.0,28.9 L441.2,26.0 L441.4,21.9 L441.5,27.0 L441.7,24.0 L441.8,20.5 L442.0,27.7 L442.2,24.2 L442.3,21.6 L442.5,22.8 L442.6,14.2 L442.8,17.2 L443.0,18.7 L443.1,21.7 L443.3,16.5 L443.4,17.2 L443.6,20.6 L443.8,20.8 L443.9,24.1 L444.1,20.9 L444.2,19.0 L444.4,19.2 L444.6,21.1 L444.7,21.1 L444.9,25.6 L445.0,25.9 L445.2,21.9 L445.4,24.6 L445.5,28.6 L445.7,25.6 L445.8,25.2 L446.0,26.1 L446.2,28.3 L446.3,30.5 L446.5,28.5 L446.6,25.3 L446.8,29.8 L447.0,32.1 L447.1,29.4 L447.3,33.6 L447.4,29.4 L447.6,30.6 L447.8,26.8 L447.9,28.6 L448.1,25.6 L448.2,21.8 L448.4,28.2 L448.6,29.5 L448.7,25.5 L448.9,26.6 L449.0,25.5 L449.2,27.1 L449.4,23.5 L449.5,24.6 L449.7,30.5 L449.8,25.1 L450.0,23.5 L450.2,21.2 L450.3,26.1 L450.5,27.0 L450.6,21.9 L450.8,27.0 L451.0,25.4 L451.1,24.7 L451.3,24.3 L451.4,26.6 L451.6,30.0 L451.8,24.6 L451.9,28.8 L452.1,29.4 L452.2,22.9 L452.4,26.3 L452.6,31.9 L452.7,30.6 L452.9,30.3 L453.0,32.0 L453.2,35.5 L453.4,28.5 L453.5,28.9 L453.7,30.7 L453.8,32.8 L454.0,31.4 L454.2,30.6 L454.3,35.4 L454.5,33.8 L454.6,34.7 L454.8,31.7 L455.0,33.1 L455.1,37.6 L455.3,36.1 L455.4,30.0 L455.6,37.6 L455.8,34.9 L455.9,37.2 L456.1,32.6 L456.2,36.3 L456.4,37.6 L456.6,39.9 L456.7,37.8 L456.9,35.4 L457.0,36.3 L457.2,42.1 L457.4,35.1 L457.5,40.4 L457.7,43.2 L457.8,40.8 L458.0,43.4 L458.2,44.0 L458.3,44.8 L458.5,44.1 L458.6,45.9 L458.8,49.6 L459.0,44.7 L459.1,48.2 L459.3,44.7 L459.4,47.3 L459.6,48.1 L459.8,50.2 L459.9,48.5 L460.1,53.7 L460.2,56.5 L460.4,54.4 L460.6,63.1 L460.7,58.6 L460.9,58.3 L461.0,61.0 L461.2,58.2 L461.4,60.7 L461.5,63.2 L461.7,65.5 L461.8,63.0 L462.0,68.2 L462.2,68.6 L462.3,66.9 L462.5,68.2 L462.6,65.9 L462.8,72.1 L463.0,76.8 L463.1,72.1 L463.3,71.8 L463.4,76.0 L463.6,73.2 L463.8,73.8 L463.9,80.2 L464.1,80.8 L464.2,83.5 L464.4,80.6 L464.6,81.3 L464.7,82.6 L464.9,87.5 L465.0,87.5 L465.2,89.9 L465.4,91.3 L465.5,91.7 L465.7,93.0 L465.8,91.1 L466.0,90.7 L466.2,91.1 L466.3,93.2 L466.5,95.2 L466.6,94.6 L466.8,94.2 L467.0,96.7 L467.1,96.7 L467.3,98.1 L467.4,99.3 L467.6,98.9 L467.8,101.8 L467.9,98.4 L468.1,104.1 L468.2,101.0 L468.4,105.2 L468.6,100.5 L468.7,102.5 L468.9,106.3 L469.0,106.3 L469.2,108.3 L469.4,107.0 L469.5,106.8 L469.7,103.5 L469.8,111.0 L470.0,107.0 L470.2,110.6 L470.3,109.6 L470.5,108.9 L470.6,109.9 L470.8,110.5 L471.0,112.0 L471.1,112.0 L471.3,112.1 L471.4,110.8 L471.6,115.7 L471.8,114.4 L471.9,116.1 L472.1,116.0 L472.2,116.1 L472.4,113.3 L472.6,112.0 L472.7,113.7 L472.9,118.3 L473.0,116.6 L473.2,118.9 L473.4,116.8 L473.5,115.9 L473.7,117.3 L473.8,117.3 L474.0,119.3 L474.2,122.5 L474.3,122.9 L474.5,120.3 L474.6,119.6 L474.8,118.9 L475.0,121.7 L475.1,121.4 L475.3,121.4 L475.4,120.5 L475.6,122.6 L475.8,124.5 L475.9,121.5 L476.1,122.8 L476.2,123.2 L476.4,126.0 L476.6,121.7 L476.7,127.3 L476.9,128.0 L477.0,125.7 L477.2,126.4 L477.4,125.2 L477.5,124.3 L477.7,126.7 L477.8,124.5 L478.0,128.2 L478.2,126.6 L478.3,129.8 L478.5,128.1 L478.6,129.1 L478.8,129.3 L479.0,128.5 L479.1,132.2 L479.3,129.8 L479.4,131.3 L479.6,130.4 L479.8,130.4 L479.9,131.7 L480.1,132.0 L480.2,133.2 L480.4,131.3 L480.6,133.1 L480.7,131.9 L480.9,134.5 L481.0,131.2 L481.2,134.4 L481.4,131.9 L481.5,134.1 L481.7,133.1 L481.8,134.2 L482.0,133.4 L482.2,134.4 L482.3,133.1 L482.5,134.1 L482.6,134.3 L482.8,133.3 L483.0,136.3 L483.1,134.2 L483.3,135.9 L483.4,137.9 L483.6,135.8 L483.8,136.8 L483.9,134.9 L484.1,137.6 L484.2,137.2 L484.4,137.2 L484.6,139.7 L484.7,137.3 L484.9,139.1 L485.0,140.1 L485.2,136.7 L485.4,138.7 L485.5,140.6 L485.7,138.9 L485.8,139.1 L486.0,138.7 L486.2,139.8 L486.3,140.8 L486.5,139.9 L486.6,140.7 L486.8,138.1 L487.0,140.6 L487.1,140.6 L487.3,140.1 L487.4,141.3 L487.6,140.6 L487.8,140.4 L487.9,140.8 L488.1,140.6 L488.2,139.2 L488.4,140.0 L488.6,141.8 L488.7,141.0 L488.9,139.9 L489.0,141.3 L489.2,140.7 L489.4,140.8 L489.5,140.4 L489.7,141.1 L489.8,141.1 L490.0,141.9 L490.2,140.8 L490.3,142.0 L490.5,139.6 L490.6,141.3 L490.8,141.5 L491.0,140.7 L491.1,141.5 L491.3,141.4 L491.4,141.6 L491.6,142.3 L491.8,142.5 L491.9,142.4 L492.1,140.8 L492.2,142.4 L492.4,142.3 L492.6,142.4 L492.7,141.4 L492.9,140.4 L493.0,143.0 L493.2,141.8 L493.4,142.2 L493.5,142.6 L493.7,142.0 L493.8,143.5 L494.0,141.8 L494.2,142.3 L494.3,143.4 L494.5,141.2 L494.6,141.9 L494.8,141.6 L495.0,143.8 L495.1,142.8 L495.3,143.1 L495.4,142.1 L495.6,141.6 L495.8,144.2 L495.9,142.7 L496.1,142.8 L496.2,141.9 L496.4,142.8 L496.6,143.8 L496.7,143.0 L496.9,143.6 L497.0,143.5 L497.2,142.8 L497.4,143.2 L497.5,142.7 L497.7,144.1 L497.8,141.1 L498.0,141.9 L498.2,142.4 L498.3,144.0 L498.5,144.7 L498.6,143.7 L498.8,143.2 L499.0,141.3 L499.1,142.0 L499.3,143.5 L499.4,142.2 L499.6,142.2 L499.8,143.1 L499.9,142.2 L500.1,142.9 L500.2,143.7 L500.4,144.1 L500.6,143.3 L500.7,142.5 L500.9,144.3 L501.0,144.5 L501.2,142.9 L501.4,145.3 L501.5,142.0 L501.7,143.7 L501.8,142.8 L502.0,142.0 L502.2,144.4 L502.3,144.2 L502.5,141.8 L502.6,143.6 L502.8,143.6 L503.0,143.3 L503.1,142.7 L503.3,142.6 L503.4,143.5 L503.6,143.8 L503.8,143.6 L503.9,143.4 L504.1,142.7 L504.2,143.5 L504.4,142.4 L504.6,144.2 L504.7,143.3 L504.9,142.5 L505.0,142.9 L505.2,143.5 L505.4,144.3 L505.5,144.1 L505.7,143.8 L505.8,143.5 L506.0,143.9 L506.2,144.6 L506.3,144.2 L506.5,143.4 L506.6,143.2 L506.8,144.6 L507.0,143.9 L507.1,144.7 L507.3,144.0 L507.4,141.5 L507.6,143.7 L507.8,143.9 L507.9,144.1 L508.1,144.5 L508.2,144.9 L508.4,143.7 L508.6,143.9 L508.7,142.8 L508.9,144.7 L509.0,143.4 L509.2,142.9 L509.4,144.9 L509.5,143.3 L509.7,144.7 L509.8,143.4 L510.0,142.8 L510.2,143.7 L510.3,143.5 L510.5,144.1 L510.6,143.5 L510.8,143.0 L511.0,143.8 L511.1,143.8 L511.3,143.5 L511.4,143.2 L511.6,144.7 L511.8,143.7 L511.9,144.1 L512.1,143.4 L512.2,143.1 L512.4,143.5 L512.6,142.9 L512.7,144.3 L512.9,144.0 L513.0,144.3 L513.2,143.7 L513.4,143.6 L513.5,143.8 L513.7,144.5 L513.8,143.7 L514.0,144.0 L514.2,143.3 L514.3,143.9 L514.5,143.0 L514.6,143.6 L514.8,144.9 L515.0,143.8 L515.1,144.6 L515.3,143.1 L515.4,142.8 L515.6,143.7 L515.8,143.4 L515.9,144.6 L516.1,145.1 L516.2,144.0 L516.4,143.9 L516.6,144.6 L516.7,143.6 L516.9,143.5 L517.0,143.3 L517.2,142.7 L517.4,143.2 L517.5,143.9 L517.7,143.6 L517.8,143.3 L518.0,144.3 L518.2,142.9 L518.3,143.1 L518.5,143.8 L518.6,144.1 L518.8,141.3 L519.0,143.2 L519.1,143.1 L519.3,142.6 L519.4,143.1 L519.6,143.6 L519.8,143.3 L519.9,144.3 L520.1,143.3 L520.2,144.7 L520.4,143.4 L520.6,143.4 L520.7,144.7 L520.9,142.5 L521.0,144.4 L521.2,143.0 L521.4,144.0 L521.5,143.5 L521.7,144.1 L521.8,142.1 L522.0,143.1 L522.2,142.6 L522.3,143.2 L522.5,143.3 L522.6,143.6 L522.8,143.8 L523.0,143.3 L523.1,143.6 L523.3,143.8 L523.4,144.5 L523.6,143.9 L523.8,143.3 L523.9,144.0 L524.1,143.5 L524.2,143.8 L524.4,144.3 L524.6,144.2 L524.7,144.1 L524.9,143.9 L525.0,143.8 L525.2,143.0 L525.4,144.4 L525.5,145.0 L525.7,143.3 L525.8,144.0 L526.0,143.8 L526.2,142.1 L526.3,142.8 L526.5,143.3 L526.6,143.1 L526.8,143.6 L527.0,143.1 L527.1,144.1 L527.3,144.1 L527.4,144.0 L527.6,142.7 L527.8,142.7 L527.9,144.1 L528.1,143.0 L528.2,143.8 L528.4,143.0 L528.6,143.9 L528.7,143.1 L528.9,143.8 L529.0,143.9 L529.2,143.7 L529.4,143.6 L529.5,144.0 L529.7,144.5 L529.8,142.6 L530.0,143.9 L530.2,144.8 L530.3,145.1 L530.5,145.4 L530.6,144.1 L530.8,142.8 L531.0,144.7 L531.1,143.9 L531.3,144.8 L531.4,143.0 L531.6,143.5 L531.8,143.5 L531.9,142.8 L532.1,142.7 L532.2,143.0 L532.4,144.0 L532.6,144.5 L532.7,144.3 L532.9,144.8 L533.0,142.6 L533.2,143.8 L533.4,143.6 L533.5,143.6 L533.7,142.4 L533.8,144.0 L534.0,142.9 L534.2,143.5 L534.3,143.8 L534.5,144.9 L534.6,143.1 L534.8,144.1 L535.0,144.0 L535.1,143.5 L535.3,143.6 L535.4,143.0 L535.6,144.1 L535.8,143.6 L535.9,143.5 L536.1,143.7 L536.2,143.2 L536.4,143.8 L536.6,142.9 L536.7,144.1 L536.9,144.6 L537.0,143.7 L537.2,142.9 L537.4,144.0 L537.5,144.1 L537.7,143.9 L537.8,143.6 L538.0,143.8 L538.2,143.5 L538.3,144.7 L538.5,142.7 L538.6,143.3 L538.8,144.2 L539.0,142.8 L539.1,143.4 L539.3,142.8 L539.4,144.4 L539.6,142.6 L539.8,143.6 L539.9,145.0 L540.1,143.2 L540.2,143.9 L540.4,144.3 L540.6,143.8 L540.7,144.9 L540.9,143.3 L541.0,143.8 L541.2,143.8 L541.4,142.8 L541.5,143.7 L541.7,144.1 L541.8,144.3 L542.0,143.7 L542.2,143.0 L542.3,144.0" stroke="#111" stroke-width="2.3"/>
<path clip-path="url(#ca)" d="M64.4,143.7 L64.6,143.6 L64.7,143.8 L64.9,144.1 L65.0,143.9 L65.2,144.2 L65.4,143.7 L65.5,143.0 L65.7,143.9 L65.8,144.0 L66.0,143.5 L66.2,143.6 L66.3,143.9 L66.5,144.6 L66.6,144.2 L66.8,143.7 L67.0,144.6 L67.1,144.1 L67.3,144.8 L67.4,144.5 L67.6,144.8 L67.8,144.0 L67.9,144.5 L68.1,143.6 L68.2,143.6 L68.4,143.8 L68.6,144.9 L68.7,144.0 L68.9,143.4 L69.0,142.8 L69.2,143.0 L69.4,142.0 L69.5,143.1 L69.7,143.9 L69.8,143.9 L70.0,145.2 L70.2,145.0 L70.3,144.8 L70.5,145.5 L70.6,144.7 L70.8,144.1 L71.0,143.5 L71.1,144.1 L71.3,143.5 L71.4,143.0 L71.6,144.5 L71.8,143.3 L71.9,143.6 L72.1,144.0 L72.2,143.0 L72.4,143.9 L72.6,145.2 L72.7,144.6 L72.9,144.1 L73.0,144.1 L73.2,143.4 L73.4,143.7 L73.5,143.4 L73.7,143.0 L73.8,145.2 L74.0,144.1 L74.2,144.7 L74.3,144.7 L74.5,145.0 L74.6,144.4 L74.8,143.9 L75.0,143.3 L75.1,143.1 L75.3,144.3 L75.4,144.1 L75.6,143.4 L75.8,144.7 L75.9,143.9 L76.1,143.6 L76.2,142.8 L76.4,142.9 L76.6,143.3 L76.7,143.5 L76.9,143.6 L77.0,143.0 L77.2,143.7 L77.4,143.3 L77.5,142.8 L77.7,143.0 L77.8,143.3 L78.0,144.0 L78.2,143.7 L78.3,143.9 L78.5,143.1 L78.6,143.4 L78.8,144.0 L79.0,144.0 L79.1,144.9 L79.3,144.5 L79.4,144.6 L79.6,143.9 L79.8,144.4 L79.9,143.4 L80.1,144.1 L80.2,144.1 L80.4,143.2 L80.6,143.7 L80.7,143.4 L80.9,142.6 L81.0,144.1 L81.2,144.0 L81.4,143.6 L81.5,143.5 L81.7,143.8 L81.8,143.8 L82.0,143.4 L82.2,143.4 L82.3,144.2 L82.5,143.7 L82.6,143.8 L82.8,144.4 L83.0,143.9 L83.1,144.5 L83.3,143.1 L83.4,142.9 L83.6,142.5 L83.8,142.9 L83.9,143.1 L84.1,144.4 L84.2,144.2 L84.4,143.5 L84.6,144.7 L84.7,143.3 L84.9,144.0 L85.0,142.2 L85.2,142.3 L85.4,141.3 L85.5,142.3 L85.7,143.7 L85.8,143.0 L86.0,143.0 L86.2,143.7 L86.3,143.8 L86.5,143.7 L86.6,143.9 L86.8,142.7 L87.0,143.2 L87.1,142.7 L87.3,142.7 L87.4,142.3 L87.6,143.5 L87.8,142.7 L87.9,144.2 L88.1,144.3 L88.2,144.4 L88.4,144.4 L88.6,143.9 L88.7,143.9 L88.9,143.7 L89.0,143.9 L89.2,143.8 L89.4,144.4 L89.5,144.1 L89.7,142.9 L89.8,144.0 L90.0,144.2 L90.2,143.5 L90.3,142.9 L90.5,144.1 L90.6,143.3 L90.8,143.4 L91.0,144.1 L91.1,143.1 L91.3,143.6 L91.4,143.7 L91.6,144.1 L91.8,143.5 L91.9,144.0 L92.1,144.0 L92.2,144.6 L92.4,144.9 L92.6,143.6 L92.7,144.3 L92.9,143.7 L93.0,143.7 L93.2,144.0 L93.4,144.0 L93.5,143.5 L93.7,144.0 L93.8,143.9 L94.0,143.8 L94.2,143.4 L94.3,143.9 L94.5,144.3 L94.6,145.1 L94.8,145.2 L95.0,143.7 L95.1,143.4 L95.3,143.8 L95.4,143.5 L95.6,143.4 L95.8,143.4 L95.9,143.3 L96.1,144.0 L96.2,143.0 L96.4,144.3 L96.6,143.3 L96.7,143.5 L96.9,143.3 L97.0,143.0 L97.2,143.4 L97.4,144.9 L97.5,145.1 L97.7,143.7 L97.8,144.3 L98.0,143.7 L98.2,143.3 L98.3,144.5 L98.5,144.7 L98.6,143.5 L98.8,143.6 L99.0,143.6 L99.1,143.5 L99.3,144.0 L99.4,144.4 L99.6,143.8 L99.8,144.3 L99.9,144.8 L100.1,143.9 L100.2,144.2 L100.4,143.8 L100.6,144.3 L100.7,143.9 L100.9,143.5 L101.0,142.9 L101.2,141.8 L101.4,142.9 L101.5,143.6 L101.7,144.8 L101.8,144.7 L102.0,145.8 L102.2,144.0 L102.3,143.9 L102.5,143.6 L102.6,144.2 L102.8,143.6 L103.0,143.0 L103.1,143.5 L103.3,143.5 L103.4,143.8 L103.6,143.5 L103.8,144.5 L103.9,145.9 L104.1,144.9 L104.2,144.5 L104.4,144.1 L104.6,141.9 L104.7,141.6 L104.9,142.8 L105.0,144.0 L105.2,143.8 L105.4,142.2 L105.5,142.1 L105.7,141.7 L105.8,142.2 L106.0,142.6 L106.2,142.7 L106.3,143.0 L106.5,143.3 L106.6,144.0 L106.8,143.4 L107.0,144.0 L107.1,143.1 L107.3,144.3 L107.4,143.6 L107.6,143.4 L107.8,143.8 L107.9,142.3 L108.1,142.6 L108.2,143.7 L108.4,143.3 L108.6,143.5 L108.7,145.0 L108.9,143.6 L109.0,143.7 L109.2,143.7 L109.4,144.2 L109.5,143.8 L109.7,143.8 L109.8,143.1 L110.0,143.5 L110.2,143.7 L110.3,143.0 L110.5,144.0 L110.6,143.8 L110.8,144.3 L111.0,142.4 L111.1,142.5 L111.3,142.6 L111.4,143.0 L111.6,143.5 L111.8,143.6 L111.9,143.8 L112.1,143.8 L112.2,143.7 L112.4,142.9 L112.6,143.2 L112.7,143.5 L112.9,143.8 L113.0,144.1 L113.2,143.3 L113.4,144.1 L113.5,144.2 L113.7,144.3 L113.8,144.6 L114.0,144.2 L114.2,143.9 L114.3,144.7 L114.5,144.7 L114.6,144.4 L114.8,144.0 L115.0,144.5 L115.1,143.8 L115.3,144.1 L115.4,143.3 L115.6,144.0 L115.8,143.1 L115.9,142.3 L116.1,142.9 L116.2,143.3 L116.4,143.2 L116.6,143.5 L116.7,144.2 L116.9,143.5 L117.0,142.7 L117.2,143.8 L117.4,143.8 L117.5,144.3 L117.7,143.6 L117.8,143.9 L118.0,142.9 L118.2,140.8 L118.3,141.1 L118.5,140.8 L118.6,141.2 L118.8,142.4 L119.0,142.7 L119.1,142.3 L119.3,143.6 L119.4,144.0 L119.6,144.4 L119.8,143.7 L119.9,143.0 L120.1,143.9 L120.2,145.6 L120.4,146.4 L120.6,146.4 L120.7,145.2 L120.9,144.6 L121.0,143.6 L121.2,143.6 L121.4,143.8 L121.5,143.7 L121.7,143.6 L121.8,143.7 L122.0,143.5 L122.2,142.8 L122.3,143.8 L122.5,144.5 L122.6,145.7 L122.8,144.3 L123.0,144.5 L123.1,143.3 L123.3,141.5 L123.4,142.2 L123.6,143.3 L123.8,144.6 L123.9,144.1 L124.1,144.1 L124.2,143.4 L124.4,142.8 L124.6,144.5 L124.7,145.7 L124.9,146.6 L125.0,145.5 L125.2,144.8 L125.4,144.5 L125.5,143.5 L125.7,144.2 L125.8,143.1 L126.0,143.2 L126.2,143.0 L126.3,143.5 L126.5,142.9 L126.6,143.2 L126.8,143.5 L127.0,143.7 L127.1,144.4 L127.3,144.8 L127.4,144.0 L127.6,144.8 L127.8,144.3 L127.9,143.3 L128.1,144.1 L128.2,143.2 L128.4,142.8 L128.6,142.8 L128.7,143.2 L128.9,142.5 L129.0,143.0 L129.2,143.7 L129.4,143.5 L129.5,142.6 L129.7,142.6 L129.8,143.6 L130.0,142.0 L130.2,142.4 L130.3,142.0 L130.5,143.0 L130.6,143.2 L130.8,144.0 L131.0,142.5 L131.1,144.2 L131.3,143.7 L131.4,145.2 L131.6,144.7 L131.8,145.2 L131.9,144.2 L132.1,143.2 L132.2,143.9 L132.4,142.3 L132.6,142.3 L132.7,143.2 L132.9,143.3 L133.0,143.7 L133.2,143.7 L133.4,144.0 L133.5,144.1 L133.7,143.8 L133.8,144.2 L134.0,144.3 L134.2,143.7 L134.3,143.3 L134.5,144.4 L134.6,143.7 L134.8,144.0 L135.0,144.2 L135.1,143.3 L135.3,144.0 L135.4,143.0 L135.6,144.2 L135.8,143.8 L135.9,144.1 L136.1,144.5 L136.2,144.0 L136.4,144.4 L136.6,143.5 L136.7,143.0 L136.9,142.7 L137.0,141.8 L137.2,142.3 L137.4,142.5 L137.5,144.0 L137.7,143.7 L137.8,144.5 L138.0,143.4 L138.2,144.4 L138.3,145.1 L138.5,144.6 L138.6,144.4 L138.8,145.6 L139.0,145.2 L139.1,144.8 L139.3,144.8 L139.4,143.9 L139.6,144.3 L139.8,144.0 L139.9,143.2 L140.1,143.6 L140.2,142.8 L140.4,143.6 L140.6,143.9 L140.7,144.4 L140.9,142.8 L141.0,143.8 L141.2,143.5 L141.4,143.7 L141.5,143.6 L141.7,143.8 L141.8,143.0 L142.0,144.6 L142.2,145.0 L142.3,145.0 L142.5,145.4 L142.6,143.8 L142.8,143.1 L143.0,143.3 L143.1,143.3 L143.3,143.1 L143.4,142.7 L143.6,145.1 L143.8,142.7 L143.9,142.8 L144.1,141.1 L144.2,142.3 L144.4,142.9 L144.6,144.4 L144.7,144.9 L144.9,143.5 L145.0,143.6 L145.2,144.0 L145.4,144.1 L145.5,144.6 L145.7,143.9 L145.8,143.7 L146.0,143.8 L146.2,143.9 L146.3,144.5 L146.5,144.2 L146.6,144.5 L146.8,144.2 L147.0,144.1 L147.1,144.9 L147.3,145.1 L147.4,144.7 L147.6,144.6 L147.8,144.4 L147.9,143.8 L148.1,144.1 L148.2,143.2 L148.4,143.5 L148.6,143.3 L148.7,143.6 L148.9,144.0 L149.0,144.2 L149.2,143.9 L149.4,144.0 L149.5,143.6 L149.7,143.6 L149.8,145.2 L150.0,143.1 L150.2,143.5 L150.3,143.2 L150.5,143.4 L150.6,144.5 L150.8,143.7 L151.0,143.6 L151.1,143.8 L151.3,143.9 L151.4,143.9 L151.6,144.3 L151.8,144.0 L151.9,144.2 L152.1,143.8 L152.2,144.4 L152.4,143.6 L152.6,143.4 L152.7,143.2 L152.9,143.1 L153.0,142.7 L153.2,144.0 L153.4,143.2 L153.5,143.5 L153.7,143.4 L153.8,143.2 L154.0,143.6 L154.2,143.5 L154.3,143.2 L154.5,143.4 L154.6,143.7 L154.8,144.9 L155.0,144.3 L155.1,144.4 L155.3,144.5 L155.4,144.7 L155.6,145.5 L155.8,144.1 L155.9,144.4 L156.1,145.2 L156.2,143.5 L156.4,144.3 L156.6,144.1 L156.7,143.6 L156.9,142.7 L157.0,143.6 L157.2,143.5 L157.4,142.9 L157.5,142.9 L157.7,143.7 L157.8,143.8 L158.0,144.1 L158.2,143.6 L158.3,142.8 L158.5,142.7 L158.6,143.1 L158.8,142.9 L159.0,144.0 L159.1,143.5 L159.3,142.9 L159.4,142.6 L159.6,142.4 L159.8,143.1 L159.9,143.9 L160.1,144.1 L160.2,144.6 L160.4,144.8 L160.6,143.5 L160.7,143.7 L160.9,143.5 L161.0,144.4 L161.2,143.8 L161.4,143.9 L161.5,144.1 L161.7,144.8 L161.8,143.8 L162.0,143.1 L162.2,143.2 L162.3,143.5 L162.5,143.4 L162.6,143.2 L162.8,145.0 L163.0,143.8 L163.1,143.4 L163.3,143.4 L163.4,142.9 L163.6,143.1 L163.8,143.5 L163.9,143.6 L164.1,143.3 L164.2,144.0 L164.4,143.7 L164.6,143.3 L164.7,142.8 L164.9,143.9 L165.0,143.9 L165.2,143.7 L165.4,143.1 L165.5,143.7 L165.7,142.9 L165.8,144.1 L166.0,143.7 L166.2,143.7 L166.3,143.1 L166.5,142.9 L166.6,144.0 L166.8,143.7 L167.0,143.2 L167.1,143.8 L167.3,144.2 L167.4,142.5 L167.6,142.3 L167.8,141.8 L167.9,142.4 L168.1,141.9 L168.2,142.8 L168.4,142.4 L168.6,143.6 L168.7,143.7 L168.9,143.4 L169.0,143.8 L169.2,143.1 L169.4,143.3 L169.5,143.9 L169.7,143.4 L169.8,143.6 L170.0,143.0 L170.2,143.7 L170.3,143.6 L170.5,142.8 L170.6,142.3 L170.8,142.4 L171.0,143.3 L171.1,143.3 L171.3,142.6 L171.4,143.4 L171.6,143.8 L171.8,143.3 L171.9,143.1 L172.1,143.7 L172.2,144.0 L172.4,143.4 L172.6,141.9 L172.7,142.1 L172.9,141.9 L173.0,142.0 L173.2,142.1 L173.4,142.7 L173.5,142.2 L173.7,142.9 L173.8,142.6 L174.0,143.1 L174.2,142.2 L174.3,142.9 L174.5,143.3 L174.6,143.1 L174.8,143.1 L175.0,142.6 L175.1,143.8 L175.3,143.6 L175.4,143.3 L175.6,141.9 L175.8,142.6 L175.9,143.1 L176.1,142.7 L176.2,142.0 L176.4,143.1 L176.6,143.2 L176.7,142.3 L176.9,142.5 L177.0,142.2 L177.2,142.5 L177.4,140.7 L177.5,140.2 L177.7,140.1 L177.8,140.6 L178.0,142.7 L178.2,142.1 L178.3,143.0 L178.5,142.6 L178.6,142.4 L178.8,142.9 L179.0,143.7 L179.1,142.9 L179.3,143.6 L179.4,143.6 L179.6,143.9 L179.8,144.0 L179.9,145.1 L180.1,142.9 L180.2,142.9 L180.4,142.1 L180.6,141.5 L180.7,142.4 L180.9,143.3 L181.0,142.8 L181.2,143.0 L181.4,142.6 L181.5,142.3 L181.7,142.9 L181.8,141.2 L182.0,141.6 L182.2,140.2 L182.3,140.2 L182.5,140.1 L182.6,139.8 L182.8,140.9 L183.0,141.9 L183.1,143.4 L183.3,142.7 L183.4,141.2 L183.6,140.6 L183.8,140.4 L183.9,141.0 L184.1,141.9 L184.2,141.1 L184.4,141.9 L184.6,141.8 L184.7,141.8 L184.9,141.4 L185.0,141.6 L185.2,141.4 L185.4,141.9 L185.5,141.6 L185.7,140.3 L185.8,141.6 L186.0,141.6 L186.2,140.7 L186.3,140.2 L186.5,140.6 L186.6,140.4 L186.8,140.3 L187.0,141.0 L187.1,141.3 L187.3,140.6 L187.4,141.6 L187.6,141.2 L187.8,141.5 L187.9,140.4 L188.1,142.1 L188.2,141.5 L188.4,141.3 L188.6,140.7 L188.7,140.7 L188.9,140.2 L189.0,141.7 L189.2,140.5 L189.4,140.9 L189.5,141.0 L189.7,140.2 L189.8,140.9 L190.0,141.6 L190.2,140.7 L190.3,141.4 L190.5,134.3 L190.6,140.1 L190.8,139.9 L191.0,139.2 L191.1,140.3 L191.3,141.1 L191.4,140.8 L191.6,141.1 L191.8,141.4 L191.9,140.8 L192.1,141.3 L192.2,141.8 L192.4,140.2 L192.6,140.5 L192.7,140.4 L192.9,140.7 L193.0,140.6 L193.2,140.7 L193.4,139.7 L193.5,139.7 L193.7,139.4 L193.8,139.4 L194.0,140.4 L194.2,139.7 L194.3,140.1 L194.5,140.4 L194.6,141.8 L194.8,140.4 L195.0,140.5 L195.1,140.6 L195.3,140.2 L195.4,139.1 L195.6,138.8 L195.8,138.9 L195.9,138.3 L196.1,138.8 L196.2,138.3 L196.4,139.1 L196.6,138.7 L196.7,138.1 L196.9,137.3 L197.0,139.0 L197.2,138.2 L197.4,138.0 L197.5,136.8 L197.7,138.2 L197.8,138.1 L198.0,138.2 L198.2,139.0 L198.3,139.3 L198.5,139.4 L198.6,140.5 L198.8,140.0 L199.0,139.4 L199.1,139.0 L199.3,138.8 L199.4,139.3 L199.6,138.2 L199.8,137.2 L199.9,137.0 L200.1,137.0 L200.2,137.1 L200.4,136.5 L200.6,137.4 L200.7,138.0 L200.9,137.9 L201.0,136.5 L201.2,137.1 L201.4,136.5 L201.5,137.8 L201.7,137.4 L201.8,138.7 L202.0,138.4 L202.2,136.8 L202.3,137.5 L202.5,138.1 L202.6,137.6 L202.8,137.1 L203.0,136.4 L203.1,137.3 L203.3,138.1 L203.4,137.2 L203.6,137.1 L203.8,136.9 L203.9,136.1 L204.1,136.6 L204.2,136.3 L204.4,137.3 L204.6,136.1 L204.7,135.4 L204.9,136.1 L205.0,136.4 L205.2,136.5 L205.4,135.6 L205.5,137.1 L205.7,136.7 L205.8,136.2 L206.0,135.9 L206.2,136.3 L206.3,135.7 L206.5,136.2 L206.6,136.0 L206.8,136.3 L207.0,136.9 L207.1,136.2 L207.3,135.7 L207.4,136.7 L207.6,136.5 L207.8,136.1 L207.9,137.3 L208.1,136.1 L208.2,136.3 L208.4,134.4 L208.6,133.3 L208.7,133.5 L208.9,134.9 L209.0,134.3 L209.2,134.9 L209.4,135.2 L209.5,134.6 L209.7,136.3 L209.8,134.5 L210.0,134.7 L210.2,133.5 L210.3,134.6 L210.5,135.4 L210.6,135.2 L210.8,135.0 L211.0,135.4 L211.1,134.4 L211.3,135.7 L211.4,136.6 L211.6,134.8 L211.8,134.8 L211.9,135.2 L212.1,135.4 L212.2,134.9 L212.4,135.8 L212.6,135.5 L212.7,134.8 L212.9,133.5 L213.0,135.4 L213.2,134.3 L213.4,135.9 L213.5,136.4 L213.7,135.0 L213.8,135.8 L214.0,136.6 L214.2,136.1 L214.3,135.5 L214.5,135.5 L214.6,136.2 L214.8,135.2 L215.0,134.6 L215.1,135.0 L215.3,134.3 L215.4,134.6 L215.6,134.9 L215.8,134.8 L215.9,134.4 L216.1,134.4 L216.2,134.7 L216.4,134.7 L216.6,133.9 L216.7,134.5 L216.9,133.6 L217.0,132.8 L217.2,132.6 L217.4,131.4 L217.5,133.9 L217.7,133.4 L217.8,134.6 L218.0,133.4 L218.2,133.5 L218.3,135.9 L218.5,135.2 L218.6,133.9 L218.8,133.6 L219.0,133.3 L219.1,133.8 L219.3,133.5 L219.4,133.3 L219.6,133.7 L219.8,133.0 L219.9,135.0 L220.1,133.3 L220.2,134.8 L220.4,134.1 L220.6,135.4 L220.7,135.6 L220.9,134.4 L221.0,134.8 L221.2,134.5 L221.4,134.7 L221.5,133.5 L221.7,133.0 L221.8,132.6 L222.0,133.3 L222.2,132.5 L222.3,132.9 L222.5,132.4 L222.6,131.5 L222.8,130.7 L223.0,132.0 L223.1,132.4 L223.3,132.8 L223.4,132.7 L223.6,133.1 L223.8,131.6 L223.9,132.4 L224.1,132.0 L224.2,133.0 L224.4,132.4 L224.6,132.1 L224.7,132.2 L224.9,130.2 L225.0,131.0 L225.2,130.5 L225.4,131.4 L225.5,132.8 L225.7,132.7 L225.8,132.1 L226.0,132.3 L226.2,132.4 L226.3,132.8 L226.5,133.9 L226.6,133.1 L226.8,134.6 L227.0,133.1 L227.1,134.0 L227.3,134.1 L227.4,133.6 L227.6,133.2 L227.8,134.2 L227.9,134.2 L228.1,133.5 L228.2,134.0 L228.4,133.3 L228.6,131.7 L228.7,133.5 L228.9,132.4 L229.0,133.0 L229.2,131.1 L229.4,130.8 L229.5,130.4 L229.7,129.8 L229.8,129.0 L230.0,130.1 L230.2,130.4 L230.3,131.5 L230.5,130.7 L230.6,131.6 L230.8,131.3 L231.0,132.3 L231.1,131.1 L231.3,133.2 L231.4,131.7 L231.6,130.6 L231.8,131.6 L231.9,132.1 L232.1,131.9 L232.2,132.6 L232.4,131.3 L232.6,129.5 L232.7,130.1 L232.9,131.5 L233.0,131.2 L233.2,130.7 L233.4,129.6 L233.5,130.8 L233.7,130.6 L233.8,129.5 L234.0,129.6 L234.2,130.6 L234.3,131.2 L234.5,132.0 L234.6,132.0 L234.8,133.7 L235.0,131.9 L235.1,132.4 L235.3,131.2 L235.4,129.8 L235.6,130.3 L235.8,132.0 L235.9,130.7 L236.1,130.3 L236.2,131.2 L236.4,130.9 L236.6,130.0 L236.7,130.9 L236.9,128.7 L237.0,131.4 L237.2,130.6 L237.4,130.3 L237.5,130.5 L237.7,130.4 L237.8,130.1 L238.0,130.3 L238.2,129.2 L238.3,130.9 L238.5,128.7 L238.6,128.6 L238.8,127.6 L239.0,128.0 L239.1,129.3 L239.3,129.6 L239.4,128.9 L239.6,129.4 L239.8,130.4 L239.9,128.5 L240.1,128.0 L240.2,130.3 L240.4,128.7 L240.6,135.4 L240.7,128.3 L240.9,128.6 L241.0,129.0 L241.2,129.3 L241.4,129.2 L241.5,129.5 L241.7,128.2 L241.8,128.7 L242.0,128.3 L242.2,128.9 L242.3,128.2 L242.5,128.9 L242.6,128.5 L242.8,127.5 L243.0,128.0 L243.1,127.9 L243.3,127.9 L243.4,128.1 L243.6,128.2 L243.8,128.3 L243.9,127.5 L244.1,128.8 L244.2,126.9 L244.4,127.9 L244.6,128.5 L244.7,128.3 L244.9,128.4 L245.0,127.7 L245.2,128.3 L245.4,126.8 L245.5,128.3 L245.7,129.5 L245.8,128.4 L246.0,129.3 L246.2,127.7 L246.3,126.7 L246.5,126.9 L246.6,128.5 L246.8,128.2 L247.0,126.4 L247.1,127.4 L247.3,127.5 L247.4,126.6 L247.6,125.4 L247.8,126.2 L247.9,126.9 L248.1,126.7 L248.2,126.4 L248.4,127.3 L248.6,127.5 L248.7,126.7 L248.9,127.5 L249.0,126.9 L249.2,126.8 L249.4,125.0 L249.5,127.3 L249.7,126.7 L249.8,126.6 L250.0,126.1 L250.2,125.6 L250.3,126.8 L250.5,126.9 L250.6,127.5 L250.8,126.8 L251.0,125.7 L251.1,126.1 L251.3,126.9 L251.4,126.5 L251.6,126.5 L251.8,126.5 L251.9,127.6 L252.1,127.3 L252.2,128.5 L252.4,127.9 L252.6,125.7 L252.7,128.7 L252.9,127.3 L253.0,126.9 L253.2,127.0 L253.4,126.9 L253.5,125.9 L253.7,125.8 L253.8,126.1 L254.0,127.7 L254.2,126.5 L254.3,126.8 L254.5,126.3 L254.6,125.4 L254.8,124.9 L255.0,124.5 L255.1,125.5 L255.3,124.3 L255.4,124.2 L255.6,124.2 L255.8,124.1 L255.9,125.8 L256.1,126.4 L256.2,126.1 L256.4,127.9 L256.6,125.4 L256.7,124.8 L256.9,123.4 L257.0,124.9 L257.2,124.7 L257.4,124.6 L257.5,124.1 L257.7,124.1 L257.8,124.9 L258.0,125.0 L258.2,125.5 L258.3,124.4 L258.5,124.8 L258.6,124.1 L258.8,123.1 L259.0,124.5 L259.1,125.7 L259.3,125.4 L259.4,126.0 L259.6,126.0 L259.8,123.3 L259.9,123.1 L260.1,123.6 L260.2,121.2 L260.4,121.8 L260.6,124.2 L260.7,125.6 L260.9,125.1 L261.0,124.2 L261.2,123.5 L261.4,122.6 L261.5,122.2 L261.7,121.8 L261.8,121.2 L262.0,122.3 L262.2,124.8 L262.3,124.2 L262.5,123.9 L262.6,124.0 L262.8,122.5 L263.0,123.1 L263.1,123.5 L263.3,121.4 L263.4,122.0 L263.6,122.3 L263.8,121.6 L263.9,121.4 L264.1,122.0 L264.2,124.7 L264.4,123.4 L264.6,123.4 L264.7,123.6 L264.9,122.2 L265.0,121.0 L265.2,122.1 L265.4,122.6 L265.5,119.7 L265.7,121.8 L265.8,122.4 L266.0,121.0 L266.2,120.8 L266.3,121.7 L266.5,120.3 L266.6,121.4 L266.8,121.7 L267.0,120.6 L267.1,120.0 L267.3,121.2 L267.4,120.2 L267.6,120.5 L267.8,117.7 L267.9,120.8 L268.1,118.8 L268.2,120.1 L268.4,120.2 L268.6,119.0 L268.7,118.3 L268.9,117.5 L269.0,118.0 L269.2,118.8 L269.4,118.7 L269.5,117.7 L269.7,117.9 L269.8,117.4 L270.0,118.6 L270.2,118.1 L270.3,117.5 L270.5,118.6 L270.6,119.9 L270.8,119.7 L271.0,119.9 L271.1,117.1 L271.3,119.4 L271.4,117.4 L271.6,118.0 L271.8,116.8 L271.9,117.3 L272.1,118.1 L272.2,117.9 L272.4,117.5 L272.6,117.4 L272.7,118.1 L272.9,117.5 L273.0,115.8 L273.2,118.9 L273.4,116.8 L273.5,118.1 L273.7,117.2 L273.8,116.7 L274.0,117.6 L274.2,116.3 L274.3,118.2 L274.5,115.0 L274.6,115.9 L274.8,113.6 L275.0,113.1 L275.1,115.8 L275.3,114.5 L275.4,114.2 L275.6,113.6 L275.8,114.6 L275.9,114.3 L276.1,115.8 L276.2,112.7 L276.4,112.4 L276.6,114.4 L276.7,114.7 L276.9,115.5 L277.0,112.0 L277.2,109.3 L277.4,111.5 L277.5,111.3 L277.7,112.4 L277.8,114.3 L278.0,111.6 L278.2,114.3 L278.3,113.0 L278.5,112.3 L278.6,111.6 L278.8,112.0 L279.0,111.9 L279.1,113.0 L279.3,113.4 L279.4,111.7 L279.6,112.4 L279.8,113.0 L279.9,112.9 L280.1,111.9 L280.2,113.3 L280.4,112.6 L280.6,112.9 L280.7,110.9 L280.9,110.8 L281.0,109.2 L281.2,112.8 L281.4,111.2 L281.5,108.7 L281.7,109.5 L281.8,109.7 L282.0,107.4 L282.2,109.9 L282.3,110.8 L282.5,110.9 L282.6,108.8 L282.8,108.7 L283.0,110.5 L283.1,109.9 L283.3,108.0 L283.4,107.4 L283.6,108.3 L283.8,106.1 L283.9,106.0 L284.1,109.2 L284.2,107.7 L284.4,107.1 L284.6,107.9 L284.7,109.5 L284.9,106.8 L285.0,105.4 L285.2,104.6 L285.4,109.6 L285.5,103.7 L285.7,108.2 L285.8,105.3 L286.0,104.7 L286.2,104.8 L286.3,105.7 L286.5,107.2 L286.6,104.7 L286.8,105.9 L287.0,107.7 L287.1,100.1 L287.3,103.8 L287.4,103.6 L287.6,108.3 L287.8,105.6 L287.9,104.2 L288.1,103.0 L288.2,103.9 L288.4,106.0 L288.6,105.3 L288.7,108.7 L288.9,107.9 L289.0,104.8 L289.2,105.4 L289.4,103.6 L289.5,104.3 L289.7,102.3 L289.8,103.9 L290.0,105.4 L290.2,102.6 L290.3,104.3 L290.5,102.8 L290.6,100.9 L290.8,103.8 L291.0,102.3 L291.1,103.6 L291.3,101.4 L291.4,99.2 L291.6,102.4 L291.8,100.9 L291.9,102.3 L292.1,102.5 L292.2,102.5 L292.4,98.4 L292.6,96.9 L292.7,99.6 L292.9,101.5 L293.0,99.6 L293.2,101.3 L293.4,100.1 L293.5,101.4 L293.7,101.9 L293.8,101.2 L294.0,102.1 L294.2,101.0 L294.3,102.2 L294.5,99.7 L294.6,100.6 L294.8,98.1 L295.0,99.3 L295.1,98.0 L295.3,97.7 L295.4,100.7 L295.6,99.7 L295.8,99.8 L295.9,97.2 L296.1,95.7 L296.2,96.9 L296.4,98.6 L296.6,95.8 L296.7,100.2 L296.9,95.6 L297.0,98.7 L297.2,101.9 L297.4,93.6 L297.5,95.1 L297.7,99.0 L297.8,97.1 L298.0,97.6 L298.2,97.0 L298.3,98.4 L298.5,96.2 L298.6,93.3 L298.8,93.8 L299.0,92.9 L299.1,95.4 L299.3,92.4 L299.4,97.2 L299.6,95.7 L299.8,99.1 L299.9,98.3 L300.1,94.6 L300.2,98.4 L300.4,96.3 L300.6,96.8 L300.7,97.9 L300.9,96.5 L301.0,96.0 L301.2,95.1 L301.4,92.3 L301.5,92.5 L301.7,95.7 L301.8,97.5 L302.0,96.8 L302.2,97.2 L302.3,95.3 L302.5,92.6 L302.6,95.0 L302.8,95.8 L303.0,95.5 L303.1,96.2 L303.3,96.4 L303.4,96.7 L303.6,86.4 L303.8,95.7 L303.9,93.6 L304.1,95.1 L304.2,94.8 L304.4,97.6 L304.6,94.2 L304.7,97.1 L304.9,94.3 L305.0,94.5 L305.2,92.1 L305.4,94.1 L305.5,92.4 L305.7,89.1 L305.8,95.4 L306.0,91.4 L306.2,90.5 L306.3,92.5 L306.5,91.8 L306.6,90.9 L306.8,94.0 L307.0,92.1 L307.1,94.0 L307.3,93.4 L307.4,92.9 L307.6,91.6 L307.8,90.3 L307.9,89.1 L308.1,92.0 L308.2,87.3 L308.4,90.0 L308.6,92.0 L308.7,94.3 L308.9,94.1 L309.0,93.3 L309.2,93.2 L309.4,95.4 L309.5,89.7 L309.7,84.4 L309.8,93.0 L310.0,88.4 L310.2,89.9 L310.3,91.0 L310.5,88.5 L310.6,93.1 L310.8,90.8 L311.0,89.4 L311.1,93.2 L311.3,94.5 L311.4,93.3 L311.6,93.0 L311.8,88.2 L311.9,91.4 L312.1,88.1 L312.2,91.8 L312.4,88.2 L312.6,89.5 L312.7,93.9 L312.9,89.2 L313.0,91.0 L313.2,89.8 L313.4,86.1 L313.5,90.9 L313.7,90.8 L313.8,86.3 L314.0,88.8 L314.2,86.1 L314.3,88.1 L314.5,90.0 L314.6,88.2 L314.8,84.9 L315.0,84.5 L315.1,85.3 L315.3,85.1 L315.4,86.2 L315.6,87.8 L315.8,83.8 L315.9,88.5 L316.1,91.7 L316.2,91.6 L316.4,89.4 L316.6,88.8 L316.7,89.5 L316.9,89.7 L317.0,87.9 L317.2,90.5 L317.4,89.2 L317.5,85.0 L317.7,87.3 L317.8,85.6 L318.0,83.9 L318.2,84.9 L318.3,86.1 L318.5,82.0 L318.6,84.7 L318.8,86.6 L319.0,84.4 L319.1,85.0 L319.3,87.3 L319.4,85.5 L319.6,85.8 L319.8,89.3 L319.9,85.8 L320.1,86.0 L320.2,86.4 L320.4,88.9 L320.6,86.5 L320.7,86.0 L320.9,85.6 L321.0,87.8 L321.2,84.2 L321.4,87.6 L321.5,85.4 L321.7,82.1 L321.8,85.8 L322.0,85.2 L322.2,81.8 L322.3,84.4 L322.5,84.6 L322.6,84.2 L322.8,83.2 L323.0,89.8 L323.1,86.7 L323.3,86.7 L323.4,86.5 L323.6,85.8 L323.8,85.6 L323.9,83.2 L324.1,85.1 L324.2,82.1 L324.4,80.6 L324.6,82.1 L324.7,81.0 L324.9,78.6 L325.0,82.0 L325.2,84.1 L325.4,82.9 L325.5,84.5 L325.7,82.0 L325.8,80.4 L326.0,83.4 L326.2,81.8 L326.3,75.0 L326.5,82.3 L326.6,80.8 L326.8,83.2 L327.0,82.3 L327.1,81.2 L327.3,75.1 L327.4,80.6 L327.6,81.1 L327.8,81.4 L327.9,80.4 L328.1,77.9 L328.2,78.0 L328.4,73.2 L328.6,77.3 L328.7,74.9 L328.9,77.5 L329.0,77.3 L329.2,82.3 L329.4,80.3 L329.5,80.9 L329.7,81.3 L329.8,85.4 L330.0,79.3 L330.2,81.7 L330.3,81.4 L330.5,80.7 L330.6,80.3 L330.8,78.5 L331.0,81.6 L331.1,80.5 L331.3,78.0 L331.4,78.5 L331.6,79.8 L331.8,80.2 L331.9,80.7 L332.1,78.9 L332.2,76.2 L332.4,81.8 L332.6,77.5 L332.7,79.9 L332.9,82.4 L333.0,78.6 L333.2,82.1 L333.4,81.5 L333.5,80.4 L333.7,78.4 L333.8,78.1 L334.0,78.1 L334.2,76.2 L334.3,80.4 L334.5,74.2 L334.6,78.8 L334.8,77.5 L335.0,77.4 L335.1,78.5 L335.3,78.2 L335.4,76.7 L335.6,74.2 L335.8,73.7 L335.9,74.7 L336.1,78.9 L336.2,78.0 L336.4,77.6 L336.6,73.9 L336.7,78.9 L336.9,71.5 L337.0,75.2 L337.2,75.7 L337.4,73.3 L337.5,71.9 L337.7,73.6 L337.8,72.2 L338.0,74.6 L338.2,72.4 L338.3,72.7 L338.5,76.5 L338.6,74.0 L338.8,77.6 L339.0,77.0 L339.1,77.8 L339.3,74.9 L339.4,71.7 L339.6,77.5 L339.8,74.1 L339.9,75.8 L340.1,74.9 L340.2,78.9 L340.4,72.6 L340.6,69.9 L340.7,73.3 L340.9,71.5 L341.0,77.4 L341.2,70.2 L341.4,73.1 L341.5,69.4 L341.7,75.6 L341.8,69.6 L342.0,71.6 L342.2,69.0 L342.3,73.4 L342.5,73.0 L342.6,66.5 L342.8,73.5 L343.0,72.7 L343.1,71.1 L343.3,72.4 L343.4,67.3 L343.6,66.1 L343.8,72.1 L343.9,74.2 L344.1,66.9 L344.2,66.6 L344.4,66.9 L344.6,65.8 L344.7,70.4 L344.9,68.3 L345.0,71.9 L345.2,72.7 L345.4,67.6 L345.5,71.7 L345.7,63.7 L345.8,68.3 L346.0,69.2 L346.2,65.5 L346.3,62.9 L346.5,66.0 L346.6,70.1 L346.8,66.0 L347.0,63.4 L347.1,67.9 L347.3,67.8 L347.4,62.5 L347.6,64.0 L347.8,66.5 L347.9,63.9 L348.1,64.2 L348.2,61.2 L348.4,63.0 L348.6,61.7 L348.7,64.2 L348.9,70.0 L349.0,64.9 L349.2,63.5 L349.4,65.0 L349.5,64.8 L349.7,69.9 L349.8,72.1 L350.0,66.1 L350.2,69.4 L350.3,70.7 L350.5,61.7 L350.6,66.4 L350.8,65.4 L351.0,68.4 L351.1,69.3 L351.3,70.0 L351.4,69.1 L351.6,66.7 L351.8,71.8 L351.9,62.3 L352.1,66.0 L352.2,65.2 L352.4,60.0 L352.6,61.5 L352.7,65.5 L352.9,56.8 L353.0,64.3 L353.2,61.7 L353.4,62.0 L353.5,58.9 L353.7,64.0 L353.8,60.5 L354.0,65.4 L354.2,60.9 L354.3,65.6 L354.5,63.8 L354.6,57.0 L354.8,60.4 L355.0,61.9 L355.1,57.3 L355.3,63.3 L355.4,66.3 L355.6,61.2 L355.8,65.3 L355.9,58.2 L356.1,57.7 L356.2,62.2 L356.4,62.0 L356.6,59.6 L356.7,59.9 L356.9,62.5 L357.0,58.0 L357.2,64.8 L357.4,60.0 L357.5,59.5 L357.7,59.2 L357.8,57.9 L358.0,62.4 L358.2,57.5 L358.3,59.5 L358.5,60.7 L358.6,62.6 L358.8,62.0 L359.0,57.6 L359.1,61.2 L359.3,58.3 L359.4,55.3 L359.6,55.2 L359.8,53.6 L359.9,59.5 L360.1,62.2 L360.2,57.0 L360.4,58.6 L360.6,55.3 L360.7,57.5 L360.9,53.0 L361.0,52.8 L361.2,52.0 L361.4,51.4 L361.5,51.3 L361.7,51.7 L361.8,51.6 L362.0,49.4 L362.2,54.5 L362.3,48.5 L362.5,54.5 L362.6,51.8 L362.8,55.5 L363.0,56.5 L363.1,49.7 L363.3,55.5 L363.4,57.4 L363.6,54.8 L363.8,53.3 L363.9,45.7 L364.1,51.3 L364.2,48.6 L364.4,53.7 L364.6,48.9 L364.7,47.3 L364.9,44.0 L365.0,52.0 L365.2,48.2 L365.4,49.6 L365.5,54.1 L365.7,51.4 L365.8,52.2 L366.0,57.6 L366.2,47.5 L366.3,46.6 L366.5,49.2 L366.6,51.6 L366.8,42.2 L367.0,45.7 L367.1,42.8 L367.3,41.1 L367.4,47.0 L367.6,43.0 L367.8,46.9 L367.9,46.7 L368.1,46.4 L368.2,44.9 L368.4,39.9 L368.6,42.0 L368.7,42.1 L368.9,41.7 L369.0,38.8 L369.2,42.8 L369.4,41.6 L369.5,40.3 L369.7,42.1 L369.8,40.2 L370.0,41.5 L370.2,32.0 L370.3,33.9 L370.5,36.6 L370.6,38.0 L370.8,29.7 L371.0,35.9 L371.1,37.0 L371.3,35.2 L371.4,34.7 L371.6,30.1 L371.8,34.8 L371.9,26.6 L372.1,37.3 L372.2,31.3 L372.4,37.3 L372.6,26.5 L372.7,34.1 L372.9,32.7 L373.0,29.1 L373.2,28.1 L373.4,37.2 L373.5,34.4 L373.7,36.7 L373.8,29.2 L374.0,28.4 L374.2,29.1 L374.3,30.8 L374.5,30.0 L374.6,31.5 L374.8,26.0 L375.0,21.6 L375.1,34.6 L375.3,27.9 L375.4,29.8 L375.6,27.0 L375.8,32.8 L375.9,29.0 L376.1,31.9 L376.2,24.4 L376.4,25.8 L376.6,26.0 L376.7,22.9 L376.9,25.4 L377.0,31.4 L377.2,23.5 L377.4,25.5 L377.5,26.0 L377.7,20.2 L377.8,18.0 L378.0,27.1 L378.2,26.0 L378.3,16.6 L378.5,17.2 L378.6,25.7 L378.8,27.1 L379.0,24.5 L379.1,23.9 L379.3,28.4 L379.4,21.8 L379.6,26.9 L379.8,25.3 L379.9,15.1 L380.1,20.5 L380.2,19.2 L380.4,18.0 L380.6,18.9 L380.7,24.8 L380.9,23.8 L381.0,27.8 L381.2,17.9 L381.4,23.7 L381.5,32.0 L381.7,29.0 L381.8,26.2 L382.0,25.9 L382.2,19.4 L382.3,20.1 L382.5,26.6 L382.6,23.7 L382.8,27.5 L383.0,22.1 L383.1,24.2 L383.3,15.9 L383.4,27.3 L383.6,35.5 L383.8,29.5 L383.9,26.0 L384.1,31.6 L384.2,30.4 L384.4,28.8 L384.6,26.6 L384.7,29.5 L384.9,33.3 L385.0,27.9 L385.2,33.2 L385.4,33.4 L385.5,37.0 L385.7,35.1 L385.8,30.0 L386.0,38.8 L386.2,33.3 L386.3,30.0 L386.5,33.8 L386.6,31.2 L386.8,36.7 L387.0,28.7 L387.1,30.5 L387.3,34.4 L387.4,41.5 L387.6,38.8 L387.8,31.3 L387.9,29.2 L388.1,35.1 L388.2,32.5 L388.4,40.0 L388.6,39.5 L388.7,39.9 L388.9,39.4 L389.0,46.0 L389.2,37.1 L389.4,35.4 L389.5,43.9 L389.7,44.9 L389.8,39.4 L390.0,43.1 L390.2,48.5 L390.3,37.0 L390.5,38.7 L390.6,42.4 L390.8,36.7 L391.0,46.3 L391.1,51.6 L391.3,47.6 L391.4,50.0 L391.6,47.8 L391.8,43.7 L391.9,47.0 L392.1,46.8 L392.2,40.1 L392.4,43.4 L392.6,44.2 L392.7,45.7 L392.9,46.0 L393.0,43.0 L393.2,47.7 L393.4,41.9 L393.5,51.1 L393.7,49.2 L393.8,53.0 L394.0,49.1 L394.2,45.6 L394.3,41.9 L394.5,48.9 L394.6,48.1 L394.8,50.6 L395.0,53.0 L395.1,54.1 L395.3,50.1 L395.4,55.4 L395.6,50.1 L395.8,51.0 L395.9,53.8 L396.1,55.5 L396.2,57.2 L396.4,48.2 L396.6,58.4 L396.7,50.0 L396.9,52.8 L397.0,55.6 L397.2,58.0 L397.4,51.8 L397.5,50.0 L397.7,58.0 L397.8,56.4 L398.0,52.9 L398.2,55.3 L398.3,50.8 L398.5,58.5 L398.6,55.6 L398.8,60.9 L399.0,51.8 L399.1,60.0 L399.3,64.4 L399.4,58.7 L399.6,58.7 L399.8,52.9 L399.9,59.3 L400.1,58.9 L400.2,57.8 L400.4,55.7 L400.6,60.6 L400.7,57.9 L400.9,59.6 L401.0,62.3 L401.2,62.6 L401.4,64.1 L401.5,67.8 L401.7,61.6 L401.8,67.1 L402.0,59.2 L402.2,59.3 L402.3,62.7 L402.5,65.0 L402.6,64.2 L402.8,62.6 L403.0,62.1 L403.1,63.5 L403.3,62.4 L403.4,67.6 L403.6,66.8 L403.8,72.4 L403.9,66.1 L404.1,67.2 L404.2,68.2 L404.4,63.9 L404.6,64.9 L404.7,73.5 L404.9,66.1 L405.0,70.1 L405.2,64.0 L405.4,60.7 L405.5,68.3 L405.7,67.0 L405.8,68.0 L406.0,66.7 L406.2,66.1 L406.3,64.7 L406.5,70.5 L406.6,64.3 L406.8,70.6 L407.0,67.7 L407.1,65.7 L407.3,67.1 L407.4,71.4 L407.6,71.1 L407.8,70.7 L407.9,69.9 L408.1,67.2 L408.2,73.2 L408.4,69.2 L408.6,69.0 L408.7,69.3 L408.9,69.7 L409.0,67.5 L409.2,70.1 L409.4,69.4 L409.5,70.2 L409.7,67.5 L409.8,76.3 L410.0,69.1 L410.2,72.8 L410.3,73.0 L410.5,75.6 L410.6,78.8 L410.8,76.7 L411.0,77.8 L411.1,74.5 L411.3,78.3 L411.4,71.1 L411.6,73.5 L411.8,74.5 L411.9,75.4 L412.1,75.8 L412.2,77.1 L412.4,76.3 L412.6,75.6 L412.7,75.7 L412.9,78.2 L413.0,75.3 L413.2,76.7 L413.4,74.5 L413.5,70.8 L413.7,73.7 L413.8,75.9 L414.0,79.0 L414.2,78.6 L414.3,79.3 L414.5,74.2 L414.6,77.6 L414.8,75.9 L415.0,77.5 L415.1,76.1 L415.3,73.3 L415.4,77.9 L415.6,77.3 L415.8,78.3 L415.9,74.7 L416.1,78.8 L416.2,79.0 L416.4,79.6 L416.6,79.6 L416.7,75.4 L416.9,70.8 L417.0,78.5 L417.2,74.3 L417.4,75.8 L417.5,78.7 L417.7,76.9 L417.8,76.7 L418.0,77.6 L418.2,71.7 L418.3,79.8 L418.5,74.5 L418.6,74.6 L418.8,77.3 L419.0,76.4 L419.1,75.5 L419.3,76.4 L419.4,74.9 L419.6,73.4 L419.8,78.9 L419.9,70.9 L420.1,68.9 L420.2,71.7 L420.4,71.6 L420.6,76.9 L420.7,73.9 L420.9,75.6 L421.0,75.4 L421.2,72.2 L421.4,76.5 L421.5,74.4 L421.7,78.0 L421.8,73.5 L422.0,72.7 L422.2,74.4 L422.3,74.4 L422.5,68.3 L422.6,75.4 L422.8,75.0 L423.0,74.4 L423.1,69.2 L423.3,66.2 L423.4,69.6 L423.6,71.6 L423.8,71.0 L423.9,67.6 L424.1,72.3 L424.2,67.3 L424.4,67.9 L424.6,71.7 L424.7,70.4 L424.9,69.7 L425.0,67.4 L425.2,73.1 L425.4,70.0 L425.5,75.7 L425.7,78.7 L425.8,76.8 L426.0,75.6 L426.2,75.6 L426.3,75.5 L426.5,73.9 L426.6,68.3 L426.8,67.1 L427.0,70.0 L427.1,68.7 L427.3,72.6 L427.4,71.5 L427.6,70.7 L427.8,73.9 L427.9,73.7 L428.1,71.1 L428.2,72.1 L428.4,73.8 L428.6,70.5 L428.7,72.3 L428.9,69.6 L429.0,72.4 L429.2,72.7 L429.4,71.3 L429.5,71.7 L429.7,72.7 L429.8,72.1 L430.0,69.4 L430.2,69.7 L430.3,68.3 L430.5,75.4 L430.6,72.4 L430.8,72.9 L431.0,72.3 L431.1,74.4 L431.3,75.1 L431.4,71.7 L431.6,72.6 L431.8,75.2 L431.9,69.4 L432.1,70.4 L432.2,74.1 L432.4,70.6 L432.6,73.0 L432.7,67.4 L432.9,69.4 L433.0,71.9 L433.2,72.4 L433.4,74.7 L433.5,73.7 L433.7,74.4 L433.8,75.4 L434.0,77.4 L434.2,83.9 L434.3,75.1 L434.5,79.1 L434.6,74.2 L434.8,72.4 L435.0,74.4 L435.1,76.0 L435.3,75.7 L435.4,75.7 L435.6,76.8 L435.8,77.0 L435.9,77.9 L436.1,73.4 L436.2,76.2 L436.4,74.4 L436.6,77.3 L436.7,77.0 L436.9,76.8 L437.0,74.5 L437.2,72.8 L437.4,73.9 L437.5,77.1 L437.7,78.4 L437.8,74.3 L438.0,79.7 L438.2,80.9 L438.3,78.5 L438.5,79.4 L438.6,79.5 L438.8,80.4 L439.0,73.7 L439.1,77.8 L439.3,77.5 L439.4,79.0 L439.6,82.1 L439.8,82.8 L439.9,80.0 L440.1,80.6 L440.2,81.1 L440.4,82.3 L440.6,82.1 L440.7,80.6 L440.9,84.1 L441.0,80.7 L441.2,81.1 L441.4,78.2 L441.5,82.2 L441.7,85.3 L441.8,86.1 L442.0,91.3 L442.2,86.1 L442.3,85.6 L442.5,83.7 L442.6,84.7 L442.8,85.0 L443.0,90.9 L443.1,85.5 L443.3,84.4 L443.4,89.4 L443.6,88.8 L443.8,90.9 L443.9,86.2 L444.1,88.4 L444.2,91.0 L444.4,95.9 L444.6,93.4 L444.7,93.1 L444.9,91.6 L445.0,91.4 L445.2,90.6 L445.4,92.5 L445.5,90.8 L445.7,92.2 L445.8,93.5 L446.0,93.5 L446.2,94.5 L446.3,92.8 L446.5,94.9 L446.6,94.4 L446.8,96.1 L447.0,98.5 L447.1,95.3 L447.3,98.6 L447.4,95.8 L447.6,96.1 L447.8,99.2 L447.9,98.7 L448.1,98.7 L448.2,99.8 L448.4,100.8 L448.6,98.3 L448.7,100.1 L448.9,99.8 L449.0,102.2 L449.2,102.4 L449.4,105.0 L449.5,103.4 L449.7,101.3 L449.8,100.9 L450.0,101.0 L450.2,102.6 L450.3,101.5 L450.5,102.0 L450.6,103.9 L450.8,105.7 L451.0,105.1 L451.1,103.1 L451.3,106.5 L451.4,105.5 L451.6,105.3 L451.8,108.9 L451.9,105.3 L452.1,106.3 L452.2,103.8 L452.4,106.4 L452.6,107.6 L452.7,107.4 L452.9,107.3 L453.0,108.5 L453.2,108.3 L453.4,110.6 L453.5,110.0 L453.7,109.7 L453.8,109.0 L454.0,110.7 L454.2,111.4 L454.3,110.6 L454.5,110.8 L454.6,110.1 L454.8,110.7 L455.0,112.1 L455.1,111.6 L455.3,111.6 L455.4,111.4 L455.6,112.2 L455.8,113.9 L455.9,115.9 L456.1,114.9 L456.2,116.5 L456.4,114.6 L456.6,114.9 L456.7,116.5 L456.9,113.8 L457.0,113.5 L457.2,114.9 L457.4,114.4 L457.5,115.3 L457.7,119.1 L457.8,116.4 L458.0,116.5 L458.2,116.0 L458.3,115.9 L458.5,118.2 L458.6,118.7 L458.8,119.4 L459.0,119.2 L459.1,118.6 L459.3,119.8 L459.4,119.9 L459.6,119.0 L459.8,120.2 L459.9,120.2 L460.1,122.5 L460.2,121.8 L460.4,121.8 L460.6,121.5 L460.7,122.3 L460.9,121.2 L461.0,122.2 L461.2,122.4 L461.4,122.6 L461.5,122.2 L461.7,123.6 L461.8,122.7 L462.0,123.7 L462.2,123.9 L462.3,123.7 L462.5,123.0 L462.6,122.3 L462.8,122.3 L463.0,122.6 L463.1,122.1 L463.3,123.3 L463.4,123.0 L463.6,124.8 L463.8,127.0 L463.9,124.4 L464.1,125.6 L464.2,126.8 L464.4,126.1 L464.6,126.7 L464.7,124.4 L464.9,125.8 L465.0,127.6 L465.2,126.2 L465.4,127.1 L465.5,125.3 L465.7,127.4 L465.8,128.3 L466.0,126.8 L466.2,127.6 L466.3,128.2 L466.5,129.9 L466.6,128.2 L466.8,127.5 L467.0,130.3 L467.1,128.5 L467.3,130.3 L467.4,128.7 L467.6,130.4 L467.8,130.6 L467.9,129.5 L468.1,129.8 L468.2,131.0 L468.4,130.6 L468.6,131.9 L468.7,133.0 L468.9,130.2 L469.0,131.6 L469.2,131.6 L469.4,131.5 L469.5,133.4 L469.7,133.8 L469.8,133.1 L470.0,132.4 L470.2,131.4 L470.3,130.2 L470.5,132.0 L470.6,132.2 L470.8,132.9 L471.0,134.0 L471.1,132.6 L471.3,132.9 L471.4,131.4 L471.6,132.2 L471.8,132.9 L471.9,134.1 L472.1,133.5 L472.2,134.3 L472.4,133.6 L472.6,134.2 L472.7,134.2 L472.9,132.8 L473.0,132.5 L473.2,133.8 L473.4,133.2 L473.5,134.6 L473.7,134.9 L473.8,134.8 L474.0,135.4 L474.2,135.4 L474.3,135.5 L474.5,134.7 L474.6,135.0 L474.8,136.6 L475.0,136.2 L475.1,137.8 L475.3,138.0 L475.4,137.2 L475.6,136.9 L475.8,135.1 L475.9,136.2 L476.1,137.0 L476.2,135.5 L476.4,136.7 L476.6,137.2 L476.7,139.3 L476.9,137.5 L477.0,137.4 L477.2,136.9 L477.4,136.4 L477.5,135.9 L477.7,137.1 L477.8,136.8 L478.0,138.0 L478.2,138.1 L478.3,137.7 L478.5,138.4 L478.6,139.4 L478.8,138.3 L479.0,138.3 L479.1,138.5 L479.3,138.1 L479.4,138.9 L479.6,139.8 L479.8,139.0 L479.9,136.7 L480.1,137.7 L480.2,136.4 L480.4,137.4 L480.6,138.6 L480.7,140.8 L480.9,140.2 L481.0,139.6 L481.2,138.9 L481.4,139.4 L481.5,139.8 L481.7,138.7 L481.8,138.7 L482.0,139.7 L482.2,140.9 L482.3,141.0 L482.5,141.2 L482.6,140.3 L482.8,140.9 L483.0,139.7 L483.1,139.8 L483.3,140.2 L483.4,139.4 L483.6,139.6 L483.8,140.0 L483.9,139.8 L484.1,141.0 L484.2,140.2 L484.4,139.9 L484.6,139.9 L484.7,139.6 L484.9,140.9 L485.0,141.2 L485.2,140.4 L485.4,140.5 L485.5,139.7 L485.7,140.7 L485.8,141.4 L486.0,140.4 L486.2,141.2 L486.3,141.8 L486.5,140.6 L486.6,142.6 L486.8,143.2 L487.0,142.5 L487.1,141.1 L487.3,141.1 L487.4,140.5 L487.6,141.9 L487.8,142.4 L487.9,141.2 L488.1,141.0 L488.2,141.2 L488.4,141.1 L488.6,141.1 L488.7,141.6 L488.9,140.5 L489.0,140.9 L489.2,141.1 L489.4,141.2 L489.5,140.8 L489.7,140.8 L489.8,140.2 L490.0,140.7 L490.2,139.6 L490.3,139.0 L490.5,140.6 L490.6,140.6 L490.8,140.4 L491.0,140.7 L491.1,141.2 L491.3,142.7 L491.4,142.0 L491.6,143.2 L491.8,143.4 L491.9,142.5 L492.1,142.7 L492.2,142.0 L492.4,140.8 L492.6,142.1 L492.7,142.2 L492.9,143.0 L493.0,142.7 L493.2,142.8 L493.4,142.4 L493.5,142.7 L493.7,142.5 L493.8,142.3 L494.0,142.7 L494.2,142.8 L494.3,142.7 L494.5,141.7 L494.6,141.9 L494.8,141.5 L495.0,141.6 L495.1,142.3 L495.3,141.8 L495.4,142.8 L495.6,140.9 L495.8,141.7 L495.9,142.7 L496.1,143.4 L496.2,142.5 L496.4,143.1 L496.6,142.1 L496.7,141.0 L496.9,141.6 L497.0,142.2 L497.2,141.8 L497.4,143.5 L497.5,143.7 L497.7,144.9 L497.8,145.6 L498.0,144.2 L498.2,144.1 L498.3,141.9 L498.5,143.0 L498.6,141.8 L498.8,143.4 L499.0,142.5 L499.1,143.4 L499.3,143.5 L499.4,142.8 L499.6,142.6 L499.8,143.7 L499.9,142.6 L500.1,143.6 L500.2,143.1 L500.4,143.0 L500.6,142.9 L500.7,144.0 L500.9,142.3 L501.0,142.8 L501.2,143.1 L501.4,143.2 L501.5,143.4 L501.7,143.2 L501.8,142.6 L502.0,143.3 L502.2,144.0 L502.3,143.7 L502.5,142.6 L502.6,143.4 L502.8,143.5 L503.0,142.8 L503.1,143.5 L503.3,143.9 L503.4,144.0 L503.6,144.1 L503.8,143.5 L503.9,143.1 L504.1,143.1 L504.2,143.0 L504.4,143.1 L504.6,143.8 L504.7,144.2 L504.9,145.3 L505.0,145.8 L505.2,144.6 L505.4,144.3 L505.5,143.8 L505.7,143.9 L505.8,144.5 L506.0,144.7 L506.2,144.1 L506.3,143.9 L506.5,144.1 L506.6,143.3 L506.8,143.6 L507.0,143.9 L507.1,143.3 L507.3,142.2 L507.4,143.2 L507.6,142.1 L507.8,142.0 L507.9,142.3 L508.1,143.7 L508.2,142.7 L508.4,143.6 L508.6,143.8 L508.7,143.8 L508.9,143.4 L509.0,143.7 L509.2,143.9 L509.4,143.2 L509.5,144.2 L509.7,144.3 L509.8,143.3 L510.0,143.1 L510.2,142.4 L510.3,143.0 L510.5,141.6 L510.6,142.3 L510.8,142.0 L511.0,143.8 L511.1,143.0 L511.3,142.9 L511.4,143.3 L511.6,142.8 L511.8,142.3 L511.9,143.5 L512.1,144.0 L512.2,143.3 L512.4,143.2 L512.6,143.2 L512.7,144.1 L512.9,143.7 L513.0,143.2 L513.2,144.0 L513.4,144.1 L513.5,143.3 L513.7,142.9 L513.8,144.2 L514.0,144.9 L514.2,144.3 L514.3,144.1 L514.5,143.7 L514.6,143.3 L514.8,143.7 L515.0,143.9 L515.1,143.3 L515.3,143.7 L515.4,143.1 L515.6,143.4 L515.8,141.8 L515.9,142.8 L516.1,143.7 L516.2,143.9 L516.4,143.8 L516.6,144.4 L516.7,143.6 L516.9,143.3 L517.0,142.2 L517.2,143.1 L517.4,143.6 L517.5,144.2 L517.7,144.3 L517.8,143.7 L518.0,143.8 L518.2,143.1 L518.3,144.0 L518.5,143.2 L518.6,143.6 L518.8,143.7 L519.0,144.7 L519.1,144.3 L519.3,143.3 L519.4,143.0 L519.6,143.6 L519.8,143.3 L519.9,144.3 L520.1,144.8 L520.2,145.5 L520.4,144.9 L520.6,144.6 L520.7,144.4 L520.9,143.9 L521.0,143.3 L521.2,143.3 L521.4,143.7 L521.5,142.4 L521.7,143.3 L521.8,143.5 L522.0,143.0 L522.2,143.6 L522.3,144.4 L522.5,144.5 L522.6,145.2 L522.8,144.7 L523.0,145.1 L523.1,143.2 L523.3,145.0 L523.4,144.1 L523.6,145.2 L523.8,145.1 L523.9,144.4 L524.1,143.8 L524.2,143.4 L524.4,142.8 L524.6,143.5 L524.7,143.3 L524.9,143.8 L525.0,142.8 L525.2,142.8 L525.4,143.0 L525.5,143.1 L525.7,143.4 L525.8,143.6 L526.0,143.5 L526.2,143.9 L526.3,144.1 L526.5,143.3 L526.6,144.5 L526.8,144.0 L527.0,143.0 L527.1,145.2 L527.3,144.3 L527.4,143.8 L527.6,144.9 L527.8,142.8 L527.9,145.2 L528.1,143.0 L528.2,142.3 L528.4,142.0 L528.6,141.9 L528.7,141.9 L528.9,143.0 L529.0,142.7 L529.2,144.1 L529.4,143.7 L529.5,143.2 L529.7,144.2 L529.8,143.9 L530.0,143.6 L530.2,144.4 L530.3,143.1 L530.5,143.5 L530.6,144.4 L530.8,143.7 L531.0,144.6 L531.1,145.0 L531.3,145.1 L531.4,145.4 L531.6,144.2 L531.8,144.5 L531.9,143.2 L532.1,143.7 L532.2,143.3 L532.4,144.0 L532.6,143.9 L532.7,144.3 L532.9,143.4 L533.0,143.2 L533.2,142.2 L533.4,142.3 L533.5,142.5 L533.7,142.8 L533.8,142.6 L534.0,143.0 L534.2,142.4 L534.3,142.8 L534.5,143.9 L534.6,144.0 L534.8,143.0 L535.0,143.5 L535.1,143.8 L535.3,143.1 L535.4,144.0 L535.6,143.9 L535.8,144.1 L535.9,144.8 L536.1,143.3 L536.2,144.3 L536.4,144.0 L536.6,144.1 L536.7,143.3 L536.9,143.7 L537.0,143.4 L537.2,143.9 L537.4,142.9 L537.5,143.7 L537.7,143.1 L537.8,143.3 L538.0,143.9 L538.2,143.4 L538.3,144.6 L538.5,145.1 L538.6,144.9 L538.8,144.6 L539.0,143.5 L539.1,143.4 L539.3,145.0 L539.4,144.3 L539.6,145.1 L539.8,144.4 L539.9,144.2 L540.1,144.5 L540.2,144.1 L540.4,142.3 L540.6,142.8 L540.7,143.3 L540.9,142.8 L541.0,143.5 L541.2,144.5 L541.4,144.8 L541.5,144.5 L541.7,143.6 L541.8,143.6 L542.0,143.4 L542.2,142.8 L542.3,142.3" stroke="#e60012" stroke-width="2.3"/>
<path clip-path="url(#cb)" d="M62.6,345.7 L63.1,346.1 L63.6,345.3 L64.1,345.7 L64.6,345.3 L65.1,345.3 L65.6,345.9 L66.1,345.3 L66.6,345.4 L67.1,345.4 L67.6,345.4 L68.1,345.5 L68.6,345.5 L69.1,345.2 L69.6,345.8 L70.1,345.9 L70.6,345.7 L71.1,345.2 L71.6,345.6 L72.1,344.9 L72.6,346.4 L73.1,345.7 L73.6,345.6 L74.1,345.4 L74.6,345.1 L75.1,345.6 L75.6,345.8 L76.1,345.2 L76.6,345.0 L77.1,346.3 L77.6,345.3 L78.1,345.4 L78.6,345.8 L79.1,345.6 L79.6,345.4 L80.1,345.5 L80.6,345.6 L81.1,345.9 L81.6,345.4 L82.1,345.7 L82.6,345.5 L83.1,345.7 L83.6,345.4 L84.1,345.3 L84.6,345.4 L85.1,345.3 L85.6,345.9 L86.1,345.4 L86.6,345.4 L87.1,345.7 L87.6,345.6 L88.1,346.4 L88.6,345.5 L89.1,345.6 L89.6,346.2 L90.1,345.3 L90.6,345.7 L91.1,345.4 L91.6,345.6 L92.1,345.4 L92.6,345.5 L93.1,345.6 L93.6,345.4 L94.1,345.2 L94.6,346.2 L95.1,345.5 L95.6,345.7 L96.1,345.8 L96.6,345.1 L97.1,345.2 L97.6,345.8 L98.1,345.8 L98.6,345.3 L99.1,345.7 L99.6,345.6 L100.1,346.1 L100.6,345.5 L101.1,345.2 L101.6,345.6 L102.1,345.5 L102.6,345.0 L103.1,345.2 L103.6,345.1 L104.1,345.3 L104.6,345.1 L105.1,346.0 L105.6,345.8 L106.1,346.0 L106.6,344.8 L107.1,345.4 L107.6,345.5 L108.1,345.7 L108.6,345.8 L109.1,346.4 L109.6,344.8 L110.1,345.5 L110.6,345.5 L111.1,345.9 L111.6,345.5 L112.1,345.4 L112.6,345.5 L113.1,345.3 L113.6,345.8 L114.1,345.4 L114.6,345.2 L115.1,345.3 L115.6,345.4 L116.1,345.5 L116.6,345.8 L117.1,345.3 L117.6,345.6 L118.1,345.8 L118.6,345.3 L119.1,346.0 L119.6,345.7 L120.1,345.3 L120.6,345.2 L121.1,345.6 L121.6,345.5 L122.1,345.3 L122.6,345.5 L123.1,345.7 L123.6,345.4 L124.1,345.5 L124.6,345.5 L125.1,345.2 L125.6,345.4 L126.1,345.6 L126.6,345.5 L127.1,344.9 L127.6,345.7 L128.1,345.6 L128.6,345.7 L129.1,345.4 L129.6,345.9 L130.1,345.4 L130.6,345.3 L131.1,345.7 L131.6,345.8 L132.1,346.0 L132.6,345.5 L133.1,345.8 L133.6,345.7 L134.1,345.6 L134.6,345.7 L135.1,345.2 L135.6,345.0 L136.1,346.2 L136.6,345.8 L137.1,345.4 L137.6,345.8 L138.1,345.7 L138.6,345.4 L139.1,345.1 L139.6,345.1 L140.1,345.6 L140.6,345.5 L141.1,345.6 L141.6,345.6 L142.1,345.9 L142.6,346.0 L143.1,345.6 L143.6,345.2 L144.1,345.3 L144.6,346.1 L145.1,345.6 L145.6,345.7 L146.1,345.4 L146.6,345.8 L147.1,345.2 L147.6,345.6 L148.1,345.3 L148.6,345.2 L149.1,346.1 L149.6,345.6 L150.1,345.0 L150.6,345.5 L151.1,345.2 L151.6,345.4 L152.1,345.6 L152.6,345.4 L153.1,345.1 L153.6,345.0 L154.1,344.9 L154.6,345.7 L155.1,345.1 L155.6,345.7 L156.1,345.3 L156.6,345.3 L157.1,345.0 L157.6,345.1 L158.1,344.7 L158.6,345.3 L159.1,344.8 L159.6,344.9 L160.1,344.9 L160.6,345.2 L161.1,344.6 L161.6,344.6 L162.1,344.3 L162.6,344.5 L163.1,344.5 L163.6,344.2 L164.1,344.0 L164.6,343.7 L165.1,343.2 L165.6,343.7 L166.1,342.7 L166.6,343.8 L167.1,342.3 L167.6,342.5 L168.1,341.2 L168.6,341.7 L169.1,340.7 L169.6,340.8 L170.1,340.3 L170.6,339.2 L171.1,338.5 L171.6,338.5 L172.1,336.5 L172.6,336.7 L173.1,335.3 L173.6,335.1 L174.1,334.2 L174.6,332.8 L175.1,332.0 L175.6,330.7 L176.1,329.8 L176.6,327.6 L177.1,326.8 L177.6,325.0 L178.1,323.2 L178.6,321.8 L179.1,320.3 L179.6,319.0 L180.1,317.2 L180.6,316.0 L181.1,313.3 L181.6,312.9 L182.1,311.0 L182.6,308.9 L183.1,306.7 L183.6,304.9 L184.1,303.0 L184.6,300.8 L185.1,298.0 L185.6,296.4 L186.1,293.5 L186.6,291.2 L187.1,288.6 L187.6,285.7 L188.1,283.6 L188.6,279.9 L189.1,278.5 L189.6,274.7 L190.1,271.5 L190.6,268.7 L191.1,263.9 L191.6,260.6 L192.1,257.5 L192.6,253.7 L193.1,252.7 L193.6,248.1 L194.1,246.2 L194.6,242.8 L195.1,240.2 L195.6,238.8 L196.1,236.3 L196.6,234.0 L197.1,231.5 L197.6,230.4 L198.1,229.7 L198.6,228.6 L199.1,225.6 L199.6,225.4 L200.1,223.7 L200.6,216.5 L201.1,220.1 L201.6,224.1 L202.1,227.0 L202.6,225.9 L203.1,225.8 L203.6,227.5 L204.1,228.8 L204.6,231.0 L205.1,229.3 L205.6,232.0 L206.1,231.1 L206.6,234.4 L207.1,236.2 L207.6,238.4 L208.1,242.1 L208.6,241.0 L209.1,247.3 L209.6,248.5 L210.1,250.8 L210.6,253.8 L211.1,254.9 L211.6,260.6 L212.1,261.8 L212.6,264.5 L213.1,267.8 L213.6,269.7 L214.1,274.0 L214.6,276.9 L215.1,279.5 L215.6,281.5 L216.1,283.4 L216.6,286.3 L217.1,287.8 L217.6,290.3 L218.1,293.7 L218.6,295.8 L219.1,298.7 L219.6,299.8 L220.1,302.1 L220.6,303.9 L221.1,305.0 L221.6,308.1 L222.1,308.8 L222.6,311.6 L223.1,313.4 L223.6,314.7 L224.1,316.2 L224.6,317.2 L225.1,319.7 L225.6,321.0 L226.1,321.5 L226.6,323.1 L227.1,324.4 L227.6,325.8 L228.1,326.1 L228.6,327.0 L229.1,327.9 L229.6,329.7 L230.1,330.3 L230.6,331.4 L231.1,332.0 L231.6,333.1 L232.1,333.7 L232.6,335.1 L233.1,335.1 L233.6,335.6 L234.1,337.0 L234.6,337.1 L235.1,337.3 L235.6,337.6 L236.1,338.5 L236.6,338.6 L237.1,338.8 L237.6,339.3 L238.1,340.1 L238.6,340.6 L239.1,340.4 L239.6,341.0 L240.1,341.5 L240.6,341.6 L241.1,341.8 L241.6,342.2 L242.1,342.5 L242.6,342.8 L243.1,343.4 L243.6,342.6 L244.1,342.9 L244.6,343.0 L245.1,343.7 L245.6,343.7 L246.1,343.7 L246.6,343.8 L247.1,344.7 L247.6,344.1 L248.1,344.6 L248.6,344.4 L249.1,344.7 L249.6,344.0 L250.1,344.5 L250.6,344.7 L251.1,344.4 L251.6,344.9 L252.1,345.1 L252.6,345.0 L253.1,345.1 L253.6,345.0 L254.1,344.8 L254.6,345.1 L255.1,345.1 L255.6,344.8 L256.1,345.1 L256.6,344.9 L257.1,345.2 L257.6,345.7 L258.1,345.6 L258.6,345.8 L259.1,345.0 L259.6,345.2 L260.1,345.5 L260.6,345.7 L261.1,345.3 L261.6,345.5 L262.1,345.4 L262.6,345.7 L263.1,345.8 L263.6,345.0 L264.1,345.8 L264.6,345.5 L265.1,345.1 L265.6,346.1 L266.1,345.3 L266.6,345.5 L267.1,345.5 L267.6,345.4 L268.1,345.9 L268.6,346.2 L269.1,344.9 L269.6,345.6 L270.1,345.2 L270.6,345.2 L271.1,345.4 L271.6,345.4 L272.1,345.3 L272.6,345.0 L273.1,345.4 L273.6,345.1 L274.1,345.6 L274.6,345.6 L275.1,345.5 L275.6,345.4 L276.1,345.3 L276.6,344.9 L277.1,345.2 L277.6,345.5 L278.1,344.9 L278.6,345.4 L279.1,345.4 L279.6,345.4 L280.1,345.6 L280.6,345.8 L281.1,345.5 L281.6,345.6 L282.1,345.8 L282.6,345.5 L283.1,345.6 L283.6,345.7 L284.1,346.0 L284.6,345.6 L285.1,345.0 L285.6,345.2 L286.1,345.2 L286.6,345.5 L287.1,345.2 L287.6,345.7 L288.1,345.6 L288.6,345.3 L289.1,345.9 L289.6,345.5 L290.1,345.4 L290.6,345.0 L291.1,345.7 L291.6,345.4 L292.1,345.7 L292.6,345.7 L293.1,346.3 L293.6,345.8 L294.1,345.2 L294.6,345.3 L295.1,345.5 L295.6,344.8 L296.1,345.3 L296.6,345.9 L297.1,345.6 L297.6,345.5 L298.1,345.0 L298.6,345.8 L299.1,345.4 L299.6,345.2 L300.1,345.7 L300.6,345.5 L301.1,346.1 L301.6,345.5 L302.1,346.2 L302.6,345.6" stroke="#111" stroke-width="2.5"/>
<path clip-path="url(#cb)" d="M62.6,345.0 L63.1,345.5 L63.6,344.8 L64.1,345.3 L64.6,345.5 L65.1,345.1 L65.6,345.1 L66.1,345.6 L66.6,345.4 L67.1,345.7 L67.6,345.2 L68.1,346.0 L68.6,345.6 L69.1,346.2 L69.6,345.3 L70.1,346.3 L70.6,345.9 L71.1,345.4 L71.6,345.6 L72.1,345.6 L72.6,345.8 L73.1,345.7 L73.6,346.1 L74.1,345.4 L74.6,345.2 L75.1,345.2 L75.6,345.5 L76.1,345.1 L76.6,345.3 L77.1,345.1 L77.6,345.3 L78.1,345.5 L78.6,345.7 L79.1,346.4 L79.6,345.2 L80.1,345.5 L80.6,344.8 L81.1,346.2 L81.6,345.2 L82.1,345.8 L82.6,345.5 L83.1,345.8 L83.6,345.3 L84.1,345.5 L84.6,345.1 L85.1,345.4 L85.6,345.3 L86.1,345.0 L86.6,345.3 L87.1,345.5 L87.6,345.0 L88.1,345.5 L88.6,345.3 L89.1,345.5 L89.6,345.7 L90.1,346.5 L90.6,345.2 L91.1,345.8 L91.6,345.2 L92.1,344.8 L92.6,345.9 L93.1,345.1 L93.6,345.4 L94.1,345.2 L94.6,345.8 L95.1,345.4 L95.6,345.3 L96.1,344.9 L96.6,344.6 L97.1,345.3 L97.6,345.5 L98.1,344.6 L98.6,345.4 L99.1,345.4 L99.6,345.3 L100.1,345.2 L100.6,345.1 L101.1,345.5 L101.6,345.4 L102.1,344.7 L102.6,344.8 L103.1,345.2 L103.6,345.2 L104.1,345.4 L104.6,344.9 L105.1,345.5 L105.6,345.3 L106.1,345.5 L106.6,345.5 L107.1,345.3 L107.6,345.3 L108.1,345.5 L108.6,345.3 L109.1,345.2 L109.6,345.4 L110.1,345.5 L110.6,345.3 L111.1,345.0 L111.6,344.8 L112.1,345.1 L112.6,345.3 L113.1,345.2 L113.6,344.5 L114.1,344.8 L114.6,345.4 L115.1,345.1 L115.6,345.2 L116.1,345.1 L116.6,345.6 L117.1,344.9 L117.6,345.4 L118.1,345.1 L118.6,344.3 L119.1,344.4 L119.6,345.0 L120.1,345.0 L120.6,345.0 L121.1,345.3 L121.6,344.9 L122.1,344.6 L122.6,344.8 L123.1,344.1 L123.6,344.3 L124.1,344.4 L124.6,343.6 L125.1,343.9 L125.6,344.0 L126.1,343.3 L126.6,343.4 L127.1,344.0 L127.6,343.5 L128.1,343.7 L128.6,343.9 L129.1,342.6 L129.6,342.6 L130.1,343.4 L130.6,342.6 L131.1,343.2 L131.6,342.1 L132.1,342.3 L132.6,342.2 L133.1,341.4 L133.6,341.7 L134.1,341.5 L134.6,341.0 L135.1,341.2 L135.6,340.6 L136.1,340.7 L136.6,340.1 L137.1,339.9 L137.6,339.6 L138.1,339.9 L138.6,338.8 L139.1,339.2 L139.6,338.2 L140.1,338.8 L140.6,338.2 L141.1,337.9 L141.6,337.1 L142.1,337.3 L142.6,336.6 L143.1,337.1 L143.6,336.2 L144.1,335.7 L144.6,335.3 L145.1,335.5 L145.6,334.1 L146.1,334.2 L146.6,332.5 L147.1,332.7 L147.6,331.4 L148.1,331.4 L148.6,330.8 L149.1,330.5 L149.6,329.6 L150.1,328.8 L150.6,328.8 L151.1,327.0 L151.6,327.2 L152.1,326.2 L152.6,326.2 L153.1,324.3 L153.6,323.3 L154.1,322.9 L154.6,321.8 L155.1,321.4 L155.6,319.9 L156.1,318.5 L156.6,318.4 L157.1,316.8 L157.6,315.8 L158.1,315.1 L158.6,313.1 L159.1,312.2 L159.6,311.4 L160.1,309.4 L160.6,308.9 L161.1,307.1 L161.6,305.9 L162.1,306.1 L162.6,303.8 L163.1,302.3 L163.6,301.5 L164.1,299.7 L164.6,298.2 L165.1,297.9 L165.6,296.7 L166.1,294.7 L166.6,293.0 L167.1,290.8 L167.6,290.0 L168.1,287.7 L168.6,286.3 L169.1,284.2 L169.6,283.1 L170.1,279.2 L170.6,278.4 L171.1,276.0 L171.6,271.9 L172.1,268.1 L172.6,264.4 L173.1,260.0 L173.6,257.3 L174.1,252.9 L174.6,247.5 L175.1,243.6 L175.6,241.0 L176.1,237.8 L176.6,233.3 L177.1,230.4 L177.6,230.1 L178.1,226.3 L178.6,226.2 L179.1,223.9 L179.6,223.4 L180.1,222.7 L180.6,222.2 L181.1,223.7 L181.6,224.3 L182.1,228.1 L182.6,229.0 L183.1,229.0 L183.6,230.0 L184.1,229.0 L184.6,232.6 L185.1,229.2 L185.6,231.6 L186.1,229.7 L186.6,228.9 L187.1,228.9 L187.6,229.5 L188.1,227.8 L188.6,227.5 L189.1,226.8 L189.6,225.8 L190.1,226.7 L190.6,227.6 L191.1,230.6 L191.6,229.7 L192.1,233.0 L192.6,233.6 L193.1,236.1 L193.6,239.0 L194.1,238.3 L194.6,241.5 L195.1,242.8 L195.6,247.3 L196.1,248.9 L196.6,250.1 L197.1,253.8 L197.6,253.9 L198.1,256.9 L198.6,259.0 L199.1,261.9 L199.6,262.6 L200.1,266.0 L200.6,269.7 L201.1,270.6 L201.6,273.3 L202.1,276.1 L202.6,279.2 L203.1,281.6 L203.6,284.3 L204.1,287.2 L204.6,288.8 L205.1,291.0 L205.6,293.0 L206.1,294.8 L206.6,297.4 L207.1,299.1 L207.6,301.0 L208.1,303.3 L208.6,305.5 L209.1,306.7 L209.6,308.9 L210.1,310.1 L210.6,311.1 L211.1,314.0 L211.6,315.5 L212.1,316.3 L212.6,317.6 L213.1,318.5 L213.6,319.8 L214.1,320.8 L214.6,322.7 L215.1,322.5 L215.6,323.2 L216.1,325.0 L216.6,326.0 L217.1,326.1 L217.6,327.4 L218.1,328.3 L218.6,329.0 L219.1,329.2 L219.6,330.6 L220.1,330.6 L220.6,331.3 L221.1,332.1 L221.6,332.3 L222.1,332.8 L222.6,333.3 L223.1,333.9 L223.6,335.2 L224.1,334.8 L224.6,335.4 L225.1,335.7 L225.6,336.8 L226.1,336.7 L226.6,337.3 L227.1,338.4 L227.6,337.8 L228.1,338.9 L228.6,339.5 L229.1,339.2 L229.6,340.1 L230.1,340.0 L230.6,340.5 L231.1,340.6 L231.6,340.7 L232.1,341.2 L232.6,341.1 L233.1,341.4 L233.6,342.2 L234.1,341.7 L234.6,342.0 L235.1,342.4 L235.6,342.2 L236.1,342.2 L236.6,342.7 L237.1,343.6 L237.6,343.1 L238.1,343.4 L238.6,343.6 L239.1,343.6 L239.6,343.9 L240.1,343.3 L240.6,343.9 L241.1,344.1 L241.6,343.8 L242.1,343.9 L242.6,343.8 L243.1,344.1 L243.6,344.4 L244.1,344.4 L244.6,345.2 L245.1,345.0 L245.6,344.2 L246.1,344.7 L246.6,343.9 L247.1,344.0 L247.6,345.1 L248.1,344.6 L248.6,343.7 L249.1,345.0 L249.6,344.7 L250.1,344.9 L250.6,344.9 L251.1,345.0 L251.6,344.9 L252.1,344.7 L252.6,345.2 L253.1,344.8 L253.6,345.3 L254.1,344.9 L254.6,345.0 L255.1,345.4 L255.6,345.1 L256.1,345.4 L256.6,345.5 L257.1,344.8 L257.6,345.9 L258.1,345.1 L258.6,345.0 L259.1,345.5 L259.6,345.0 L260.1,345.0 L260.6,345.8 L261.1,345.2 L261.6,345.3 L262.1,345.7 L262.6,345.3 L263.1,345.2 L263.6,345.7 L264.1,346.2 L264.6,345.3 L265.1,345.8 L265.6,346.1 L266.1,345.6 L266.6,346.3 L267.1,345.6 L267.6,345.0 L268.1,346.5 L268.6,345.3 L269.1,345.8 L269.6,345.6 L270.1,345.8 L270.6,345.3 L271.1,345.5 L271.6,345.8 L272.1,346.0 L272.6,345.6 L273.1,345.1 L273.6,345.9 L274.1,345.3 L274.6,345.4 L275.1,346.2 L275.6,345.1 L276.1,345.5 L276.6,344.7 L277.1,344.9 L277.6,345.6 L278.1,345.5 L278.6,345.9 L279.1,346.0 L279.6,345.2 L280.1,345.6 L280.6,345.6 L281.1,345.6 L281.6,345.3 L282.1,345.2 L282.6,345.5 L283.1,345.6 L283.6,345.5 L284.1,344.8 L284.6,346.2 L285.1,345.9 L285.6,345.3 L286.1,345.4 L286.6,345.1 L287.1,345.0 L287.6,344.8 L288.1,345.8 L288.6,345.3 L289.1,345.6 L289.6,345.1 L290.1,345.4 L290.6,345.2 L291.1,345.8 L291.6,345.4 L292.1,345.7 L292.6,345.6 L293.1,345.7 L293.6,345.9 L294.1,345.1 L294.6,345.4 L295.1,345.1 L295.6,345.8 L296.1,346.2 L296.6,345.7 L297.1,345.5 L297.6,345.2 L298.1,345.1 L298.6,345.1 L299.1,344.9 L299.6,345.2 L300.1,345.5 L300.6,345.8 L301.1,345.2 L301.6,345.7 L302.1,345.8 L302.6,345.3" stroke="#e60012" stroke-width="2.5"/>
<path clip-path="url(#cc)" d="M302.8,318.7 L303.4,316.2 L303.9,298.3 L304.5,305.9 L305.0,297.9 L305.6,326.9 L306.1,311.5 L306.7,300.5 L307.2,309.4 L307.8,313.8 L308.3,305.3 L308.9,287.8 L309.4,335.5 L310.0,288.6 L310.5,305.2 L311.1,319.6 L311.6,300.4 L312.2,308.2 L312.7,293.4 L313.3,319.0 L313.8,296.4 L314.4,320.2 L314.9,304.7 L315.5,299.9 L316.0,309.7 L316.6,300.6 L317.1,316.3 L317.7,295.2 L318.2,315.1 L318.8,317.6 L319.3,310.2 L319.9,309.3 L320.4,319.3 L321.0,298.6 L321.5,310.3 L322.1,301.0 L322.6,327.6 L323.2,325.4 L323.7,312.0 L324.3,321.3 L324.8,310.3 L325.4,301.5 L325.9,294.5 L326.5,290.0 L327.0,298.7 L327.6,317.6 L328.1,301.7 L328.7,315.3 L329.2,301.8 L329.8,322.0 L330.3,291.5 L330.9,303.4 L331.4,312.2 L332.0,325.9 L332.5,305.0 L333.1,315.3 L333.6,305.4 L334.2,317.6 L334.7,315.5 L335.3,300.7 L335.8,289.8 L336.4,324.6 L336.9,311.0 L337.5,303.6 L338.0,310.5 L338.6,314.1 L339.1,281.0 L339.7,319.2 L340.2,303.9 L340.8,314.7 L341.3,309.7 L341.9,337.5 L342.4,297.2 L343.0,311.2 L343.5,320.7 L344.1,287.4 L344.6,312.0 L345.2,316.2 L345.7,319.2 L346.3,294.9 L346.8,308.1 L347.4,312.3 L347.9,325.2 L348.5,319.9 L349.0,304.0 L349.6,308.7 L350.1,333.9 L350.7,319.5 L351.2,305.5 L351.8,274.3 L352.3,317.9 L352.9,336.6 L353.4,298.6 L354.0,314.4 L354.5,325.1 L355.1,301.2 L355.6,311.2 L356.2,320.5 L356.7,324.9 L357.3,309.8 L357.8,307.2 L358.4,330.8 L358.9,295.7 L359.5,324.3 L360.0,290.4 L360.6,304.0 L361.1,310.6 L361.7,303.9 L362.2,315.7 L362.8,309.0 L363.3,287.2 L363.9,315.4 L364.4,297.7 L365.0,319.5 L365.5,308.3 L366.1,295.8 L366.6,323.3 L367.2,303.8 L367.7,335.3 L368.3,322.5 L368.8,313.3 L369.4,296.7 L369.9,298.8 L370.5,319.5 L371.0,309.5 L371.6,305.5 L372.1,327.7 L372.7,302.4 L373.2,290.6 L373.8,292.0 L374.3,315.2 L374.9,312.9 L375.4,319.5 L376.0,313.9 L376.5,310.8 L377.1,298.9 L377.6,306.5 L378.2,319.3 L378.7,297.0 L379.3,296.2 L379.8,315.1 L380.4,310.5 L380.9,308.6 L381.5,328.1 L382.0,305.5 L382.6,298.6 L383.1,282.4 L383.7,304.6 L384.2,310.6 L384.8,308.8 L385.3,299.1 L385.9,296.6 L386.4,317.6 L387.0,304.2 L387.5,298.2 L388.1,331.9 L388.6,288.9 L389.2,309.0 L389.7,295.1 L390.3,306.6 L390.8,309.0 L391.4,306.8 L391.9,302.0 L392.5,294.5 L393.0,308.8 L393.6,319.5 L394.1,314.0 L394.7,317.4 L395.2,295.2 L395.8,316.8 L396.3,285.1 L396.9,302.6 L397.4,305.1 L398.0,287.2 L398.5,308.2 L399.1,307.0 L399.6,293.0 L400.2,293.2 L400.7,314.8 L401.3,270.4 L401.8,293.7 L402.4,316.0 L402.9,301.3 L403.5,286.1 L404.0,293.4 L404.6,283.4 L405.1,261.8 L405.7,277.2 L406.2,260.2 L406.8,273.2 L407.3,286.0 L407.9,253.7 L408.4,276.9 L409.0,250.9 L409.5,249.9 L410.1,264.4 L410.6,258.7 L411.2,248.8 L411.7,222.9 L412.3,244.7 L412.8,242.3 L413.4,220.3 L413.9,235.6 L414.5,258.0 L415.0,261.7 L415.6,257.3 L416.1,269.8 L416.7,269.3 L417.2,263.1 L417.8,274.2 L418.3,269.4 L418.9,294.3 L419.4,299.8 L420.0,309.4 L420.5,316.5 L421.1,301.5 L421.6,296.5 L422.2,301.1 L422.7,299.5 L423.3,274.4 L423.8,314.8 L424.4,304.9 L424.9,308.1 L425.5,313.8 L426.0,285.4 L426.6,303.2 L427.1,287.1 L427.7,317.6 L428.2,279.7 L428.8,274.9 L429.3,314.9 L429.9,304.1 L430.4,305.8 L431.0,297.2 L431.5,320.9 L432.1,298.6 L432.6,295.5 L433.2,312.4 L433.7,333.7 L434.3,313.7 L434.8,310.2 L435.4,295.5 L435.9,313.2 L436.5,320.0 L437.0,297.7 L437.6,300.9 L438.1,296.3 L438.7,305.1 L439.2,292.4 L439.8,299.3 L440.3,328.6 L440.9,303.4 L441.4,296.2 L442.0,305.6 L442.5,287.6 L443.1,311.9 L443.6,297.4 L444.2,321.9 L444.7,306.3 L445.3,313.3 L445.8,319.1 L446.4,323.0 L446.9,303.6 L447.5,301.1 L448.0,314.6 L448.6,322.3 L449.1,317.7 L449.7,297.0 L450.2,321.9 L450.8,292.2 L451.3,327.9 L451.9,303.2 L452.4,298.3 L453.0,291.3 L453.5,312.2 L454.1,316.5 L454.6,324.9 L455.2,295.3 L455.7,308.5 L456.3,312.7 L456.8,312.2 L457.4,303.7 L457.9,306.5 L458.5,292.0 L459.0,334.3 L459.6,296.2 L460.1,313.7 L460.7,308.0 L461.2,311.0 L461.8,308.1 L462.3,297.4 L462.9,304.2 L463.4,325.4 L464.0,307.9 L464.5,308.3 L465.1,302.4 L465.6,306.6 L466.2,308.1 L466.7,294.1 L467.3,320.9 L467.8,279.4 L468.4,314.3 L468.9,320.3 L469.5,297.2 L470.0,293.5 L470.6,291.2 L471.1,288.6 L471.7,301.1 L472.2,306.3 L472.8,302.4 L473.3,307.2 L473.9,314.0 L474.4,286.8 L475.0,284.1 L475.5,307.1 L476.1,310.1 L476.6,313.4 L477.2,328.5 L477.7,315.8 L478.3,313.7 L478.8,307.4 L479.4,319.9 L479.9,331.3 L480.5,298.9 L481.0,285.3 L481.6,334.2 L482.1,308.9 L482.7,296.3 L483.2,322.0 L483.8,325.4 L484.3,306.8 L484.9,310.1 L485.4,315.3 L486.0,286.3 L486.5,288.2 L487.1,298.9 L487.6,308.0 L488.2,311.3 L488.7,295.9 L489.3,310.1 L489.8,288.2 L490.4,291.3 L490.9,314.8 L491.5,297.4 L492.0,287.2 L492.6,298.7 L493.1,319.0 L493.7,310.4 L494.2,311.3 L494.8,305.4 L495.3,306.6 L495.9,311.4 L496.4,296.0 L497.0,289.7 L497.5,314.0 L498.1,325.6 L498.6,302.1 L499.2,306.7 L499.7,301.4 L500.3,315.5 L500.8,303.1 L501.4,318.3 L501.9,292.9 L502.5,285.4 L503.0,318.5 L503.6,339.6 L504.1,312.9 L504.7,313.3 L505.2,304.1 L505.8,306.3 L506.3,300.3 L506.9,272.1 L507.4,313.6 L508.0,311.3 L508.5,301.0 L509.1,330.0 L509.6,296.5 L510.2,314.4 L510.7,324.7 L511.3,317.2 L511.8,300.1 L512.4,295.8 L512.9,290.6 L513.5,300.9 L514.0,315.6 L514.6,299.3 L515.1,307.4 L515.7,276.7 L516.2,332.5 L516.8,285.9 L517.3,296.6 L517.9,301.1 L518.4,307.5 L519.0,313.4 L519.5,318.5 L520.1,326.1 L520.6,280.4 L521.2,294.4 L521.7,297.7 L522.3,301.6 L522.8,330.6 L523.4,309.7 L523.9,304.6 L524.5,291.5 L525.0,318.9 L525.6,302.7 L526.1,309.2 L526.7,305.8 L527.2,316.0 L527.8,301.5 L528.3,305.1 L528.9,329.9 L529.4,290.7 L530.0,278.2 L530.5,317.2 L531.1,291.5 L531.6,318.5 L532.2,312.8 L532.7,283.7 L533.3,303.5 L533.8,286.8 L534.4,302.3 L534.9,293.1 L535.5,308.1 L536.0,287.8 L536.6,283.2 L537.1,297.3 L537.7,313.1 L538.2,310.6 L538.8,317.9 L539.3,298.2 L539.9,299.3 L540.4,314.7 L541.0,294.2 L541.5,313.2 L542.1,282.7 L542.6,295.3" stroke="#e60012" stroke-width="2.3" stroke-linejoin="miter" stroke-miterlimit="8"/>
<path clip-path="url(#cc)" d="M302.8,344.6 L303.3,343.5 L303.8,343.4 L304.3,343.9 L304.8,344.0 L305.3,344.0 L305.8,343.1 L306.3,343.5 L306.8,343.9 L307.3,344.6 L307.8,343.7 L308.3,343.4 L308.8,343.8 L309.3,342.8 L309.8,345.2 L310.3,342.0 L310.8,343.9 L311.3,344.6 L311.8,345.1 L312.3,343.2 L312.8,343.4 L313.3,344.0 L313.8,343.8 L314.3,343.7 L314.8,344.1 L315.3,343.0 L315.8,343.3 L316.3,343.9 L316.8,345.0 L317.3,342.8 L317.8,344.1 L318.3,344.5 L318.8,342.9 L319.3,343.4 L319.8,345.3 L320.3,345.0 L320.8,344.1 L321.3,344.7 L321.8,343.9 L322.3,341.9 L322.8,341.6 L323.3,343.8 L323.8,343.2 L324.3,343.1 L324.8,343.9 L325.3,344.9 L325.8,343.0 L326.3,343.9 L326.8,343.5 L327.3,343.3 L327.8,344.4 L328.3,342.6 L328.8,343.7 L329.3,343.6 L329.8,344.1 L330.3,343.3 L330.8,343.1 L331.3,344.2 L331.8,343.4 L332.3,344.1 L332.8,344.7 L333.3,344.0 L333.8,343.4 L334.3,343.4 L334.8,343.0 L335.3,344.3 L335.8,344.0 L336.3,343.7 L336.8,343.3 L337.3,343.9 L337.8,344.5 L338.3,344.9 L338.8,342.9 L339.3,343.0 L339.8,344.3 L340.3,342.7 L340.8,343.8 L341.3,343.5 L341.8,342.9 L342.3,344.1 L342.8,344.4 L343.3,345.1 L343.8,343.6 L344.3,343.5 L344.8,343.2 L345.3,343.4 L345.8,343.7 L346.3,343.0 L346.8,344.5 L347.3,343.5 L347.8,343.4 L348.3,343.9 L348.8,342.5 L349.3,343.5 L349.8,342.8 L350.3,343.1 L350.8,343.9 L351.3,342.4 L351.8,343.0 L352.3,343.8 L352.8,343.9 L353.3,344.5 L353.8,343.9 L354.3,344.0 L354.8,343.6 L355.3,344.1 L355.8,343.4 L356.3,343.8 L356.8,344.9 L357.3,344.2 L357.8,344.4 L358.3,344.7 L358.8,344.0 L359.3,343.1 L359.8,344.6 L360.3,345.2 L360.8,343.9 L361.3,341.6 L361.8,344.2 L362.3,343.6 L362.8,344.1 L363.3,343.2 L363.8,342.7 L364.3,343.9 L364.8,342.9 L365.3,344.6 L365.8,343.6 L366.3,344.7 L366.8,343.6 L367.3,344.2 L367.8,343.6 L368.3,344.6 L368.8,343.6 L369.3,343.7 L369.8,344.2 L370.3,344.4 L370.8,344.6 L371.3,344.1 L371.8,343.5 L372.3,343.9 L372.8,343.7 L373.3,342.9 L373.8,344.0 L374.3,343.6 L374.8,343.2 L375.3,343.4 L375.8,343.5 L376.3,343.7 L376.8,342.4 L377.3,343.8 L377.8,344.1 L378.3,343.4 L378.8,342.6 L379.3,342.8 L379.8,343.8 L380.3,343.1 L380.8,343.3 L381.3,343.5 L381.8,343.0 L382.3,343.0 L382.8,343.3 L383.3,342.0 L383.8,343.5 L384.3,342.1 L384.8,341.6 L385.3,341.5 L385.8,342.7 L386.3,343.0 L386.8,344.0 L387.3,342.8 L387.8,340.9 L388.3,343.7 L388.8,343.6 L389.3,341.8 L389.8,341.9 L390.3,343.6 L390.8,342.3 L391.3,341.9 L391.8,343.2 L392.3,341.3 L392.8,342.9 L393.3,341.0 L393.8,341.6 L394.3,342.2 L394.8,342.4 L395.3,341.1 L395.8,340.5 L396.3,340.1 L396.8,340.0 L397.3,339.3 L397.8,338.1 L398.3,339.0 L398.8,338.0 L399.3,337.1 L399.8,337.1 L400.3,336.0 L400.8,335.1 L401.3,336.1 L401.8,334.6 L402.3,335.9 L402.8,333.0 L403.3,331.3 L403.8,331.6 L404.3,328.8 L404.8,330.1 L405.3,326.8 L405.8,327.1 L406.3,326.5 L406.8,324.6 L407.3,322.2 L407.8,320.4 L408.3,318.4 L408.8,315.5 L409.3,312.2 L409.8,310.3 L410.3,306.5 L410.8,303.8 L411.3,299.4 L411.8,295.1 L412.3,290.6 L412.8,285.5 L413.3,278.6 L413.8,273.4 L414.3,267.9 L414.8,261.0 L415.3,256.1 L415.8,250.1 L416.3,242.2 L416.8,236.1 L417.3,232.2 L417.8,228.2 L418.3,225.7 L418.8,222.2 L419.3,222.5 L419.8,225.7 L420.3,228.8 L420.8,232.9 L421.3,238.8 L421.8,250.9 L422.3,258.3 L422.8,270.3 L423.3,279.0 L423.8,286.9 L424.3,298.8 L424.8,304.7 L425.3,307.3 L425.8,313.8 L426.3,318.5 L426.8,323.5 L427.3,324.4 L427.8,325.9 L428.3,328.1 L428.8,328.8 L429.3,331.8 L429.8,332.2 L430.3,334.7 L430.8,335.3 L431.3,337.8 L431.8,338.2 L432.3,337.2 L432.8,339.5 L433.3,339.9 L433.8,339.0 L434.3,340.0 L434.8,340.5 L435.3,340.7 L435.8,339.4 L436.3,342.1 L436.8,341.9 L437.3,341.9 L437.8,343.1 L438.3,342.8 L438.8,342.6 L439.3,343.7 L439.8,342.2 L440.3,343.9 L440.8,343.2 L441.3,342.9 L441.8,340.9 L442.3,344.5 L442.8,343.0 L443.3,341.4 L443.8,343.7 L444.3,342.6 L444.8,343.2 L445.3,344.5 L445.8,343.2 L446.3,344.1 L446.8,343.5 L447.3,344.6 L447.8,343.1 L448.3,345.4 L448.8,343.8 L449.3,342.8 L449.8,343.3 L450.3,344.0 L450.8,344.0 L451.3,344.1 L451.8,341.8 L452.3,343.8 L452.8,343.8 L453.3,344.3 L453.8,344.1 L454.3,343.4 L454.8,344.2 L455.3,344.4 L455.8,344.2 L456.3,344.1 L456.8,343.7 L457.3,344.2 L457.8,343.9 L458.3,344.3 L458.8,342.9 L459.3,343.7 L459.8,344.0 L460.3,343.6 L460.8,343.8 L461.3,344.9 L461.8,343.9 L462.3,342.6 L462.8,343.4 L463.3,342.9 L463.8,344.3 L464.3,344.9 L464.8,344.3 L465.3,342.8 L465.8,344.5 L466.3,344.4 L466.8,343.0 L467.3,344.0 L467.8,343.9 L468.3,343.5 L468.8,343.7 L469.3,344.0 L469.8,343.6 L470.3,344.3 L470.8,343.8 L471.3,343.3 L471.8,344.6 L472.3,344.0 L472.8,344.6 L473.3,343.3 L473.8,343.4 L474.3,343.1 L474.8,343.1 L475.3,343.1 L475.8,343.3 L476.3,344.4 L476.8,343.1 L477.3,344.5 L477.8,342.1 L478.3,343.6 L478.8,343.4 L479.3,344.7 L479.8,343.0 L480.3,342.9 L480.8,344.9 L481.3,344.2 L481.8,344.1 L482.3,344.3 L482.8,342.8 L483.3,342.2 L483.8,344.6 L484.3,343.0 L484.8,344.0 L485.3,342.8 L485.8,345.6 L486.3,344.1 L486.8,342.9 L487.3,344.4 L487.8,342.9 L488.3,344.2 L488.8,343.0 L489.3,343.4 L489.8,344.1 L490.3,344.4 L490.8,343.9 L491.3,343.0 L491.8,343.8 L492.3,344.3 L492.8,341.4 L493.3,344.9 L493.8,344.0 L494.3,343.4 L494.8,344.6 L495.3,343.8 L495.8,344.1 L496.3,344.9 L496.8,343.5 L497.3,344.6 L497.8,344.3 L498.3,342.9 L498.8,344.6 L499.3,343.4 L499.8,342.9 L500.3,343.1 L500.8,343.5 L501.3,344.0 L501.8,344.8 L502.3,343.7 L502.8,343.5 L503.3,344.2 L503.8,344.5 L504.3,343.2 L504.8,344.6 L505.3,343.5 L505.8,344.2 L506.3,345.0 L506.8,342.6 L507.3,343.4 L507.8,343.4 L508.3,344.8 L508.8,343.9 L509.3,343.6 L509.8,344.4 L510.3,342.6 L510.8,345.3 L511.3,343.3 L511.8,345.2 L512.3,345.0 L512.8,344.7 L513.3,343.4 L513.8,344.3 L514.3,344.3 L514.8,344.5 L515.3,344.9 L515.8,344.5 L516.3,344.5 L516.8,344.1 L517.3,344.1 L517.8,345.6 L518.3,344.3 L518.8,343.0 L519.3,344.2 L519.8,343.9 L520.3,344.4 L520.8,344.3 L521.3,343.9 L521.8,344.8 L522.3,344.0 L522.8,345.1 L523.3,343.6 L523.8,345.0 L524.3,343.4 L524.8,343.1 L525.3,345.0 L525.8,343.4 L526.3,344.2 L526.8,343.0 L527.3,344.2 L527.8,344.1 L528.3,344.1 L528.8,343.0 L529.3,345.3 L529.8,343.3 L530.3,343.8 L530.8,344.2 L531.3,344.0 L531.8,343.2 L532.3,343.3 L532.8,342.6 L533.3,344.3 L533.8,345.2 L534.3,344.3 L534.8,344.0 L535.3,344.2 L535.8,343.0 L536.3,342.2 L536.8,343.6 L537.3,345.2 L537.8,343.1 L538.3,344.3 L538.8,343.8 L539.3,343.3 L539.8,343.6 L540.3,343.9 L540.8,343.7 L541.3,343.3 L541.8,343.4 L542.3,342.4 L542.8,346.0" stroke="#111" stroke-width="2.5"/>
</g>
<text clip-path="url(#c1)" transform="translate(61.3,28.9) scale(1.085,1)" text-anchor="end" font-size="20" stroke="#151515" stroke-width="0.35">1</text>
<text transform="translate(61.5,90.6) scale(1.085,1)" text-anchor="end" font-size="20" stroke="#151515" stroke-width="0.35">0.5</text>
<text transform="translate(60.2,150.5) scale(1.085,1)" text-anchor="end" font-size="20" stroke="#151515" stroke-width="0.35">0</text>
<text transform="translate(81.0,28.5) scale(1.085,1)" text-anchor="start" font-size="20" stroke="#151515" stroke-width="0.35">(a)</text>
<text transform="translate(171.0,179.7) scale(1.085,1)" text-anchor="middle" font-size="20" stroke="#151515" stroke-width="0.35">600</text>
<text transform="translate(302.4,180.1) scale(1.085,1)" text-anchor="middle" font-size="20" stroke="#151515" stroke-width="0.35">700</text>
<text transform="translate(436.9,177.4) scale(1.085,1)" text-anchor="middle" font-size="20" stroke="#151515" stroke-width="0.35">800</text>
<text transform="translate(302.65,198.7) scale(1.088,1)" text-anchor="middle" font-size="19.6" stroke="#151515" stroke-width="0.35">Wavelength (nm)</text>
<text transform="translate(22.3,84.05) scale(1.085,1) rotate(-90)" text-anchor="middle" font-size="21.12" stroke="#151515" stroke-width="0.4">Intensity (norm.)</text>
<text clip-path="url(#c1)" transform="translate(61.0,229.6) scale(1.085,1)" text-anchor="end" font-size="20" stroke="#151515" stroke-width="0.35">1</text>
<text transform="translate(61.8,290.8) scale(1.085,1)" text-anchor="end" font-size="20" stroke="#151515" stroke-width="0.35">0.5</text>
<text transform="translate(60.3,351.1) scale(1.085,1)" text-anchor="end" font-size="20" stroke="#151515" stroke-width="0.35">0</text>
<text transform="translate(81,230) scale(1.085,1)" text-anchor="start" font-size="20" stroke="#151515" stroke-width="0.35">(b)</text>
<text transform="translate(316,229.8) scale(1.085,1)" text-anchor="start" font-size="20" stroke="#151515" stroke-width="0.75">(c)</text>
<text transform="translate(105.3,380.3) scale(1.085,1)" text-anchor="middle" font-size="20" stroke="#151515" stroke-width="0.35">375</text>
<text transform="translate(180.1,380.3) scale(1.085,1)" text-anchor="middle" font-size="20" stroke="#151515" stroke-width="0.35">400</text>
<text transform="translate(256.6,378.4) scale(1.085,1)" text-anchor="middle" font-size="20" stroke="#151515" stroke-width="0.35">425</text>
<text transform="translate(354.5,378.0) scale(1.085,1)" text-anchor="middle" font-size="20" stroke="#151515" stroke-width="0.35">250</text>
<text transform="translate(422.0,378.0) scale(1.085,1)" text-anchor="middle" font-size="20" stroke="#151515" stroke-width="0.35">275</text>
<text transform="translate(487.6,376.9) scale(1.085,1)" text-anchor="middle" font-size="20" stroke="#151515" stroke-width="0.35">300</text>
<text transform="translate(181.3,399.8) scale(1.088,1)" text-anchor="middle" font-size="19.6" stroke="#151515" stroke-width="0.35">Wavelength (nm)</text>
<text transform="translate(422.65,400.3) scale(1.088,1)" text-anchor="middle" font-size="19.6" stroke="#151515" stroke-width="0.35">Wavelength (nm)</text>
<text transform="translate(22.3,283.9) scale(1.085,1) rotate(-90)" text-anchor="middle" font-size="21.12" stroke="#151515" stroke-width="0.4">Intensity (norm.)</text>
</svg>
</body></html>
